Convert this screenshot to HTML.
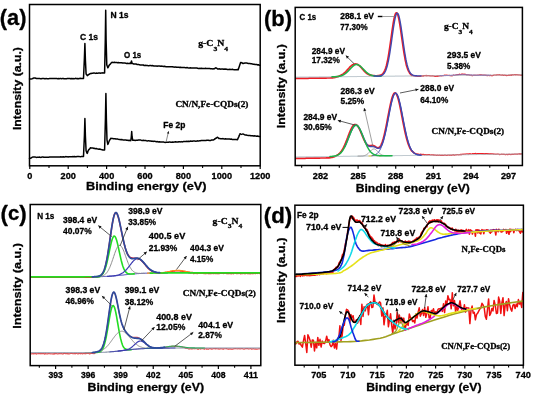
<!DOCTYPE html>
<html><head><meta charset="utf-8"><style>
html,body{margin:0;padding:0;background:#fff;width:533px;height:398px;overflow:hidden;font-family:"Liberation Sans",sans-serif;}
</style></head><body>
<svg width="533" height="398" viewBox="0 0 533 398" style="display:block;filter:blur(0.3px)"><style>text{stroke:#000;stroke-width:0.30px;stroke-linejoin:round}</style><rect x="0" y="0" width="533" height="398" fill="#fff"/>
<line x1="29.80" y1="165.80" x2="29.80" y2="169.10" stroke="#000" stroke-width="1.20"/>
<line x1="68.20" y1="165.80" x2="68.20" y2="169.10" stroke="#000" stroke-width="1.20"/>
<line x1="106.60" y1="165.80" x2="106.60" y2="169.10" stroke="#000" stroke-width="1.20"/>
<line x1="145.00" y1="165.80" x2="145.00" y2="169.10" stroke="#000" stroke-width="1.20"/>
<line x1="183.40" y1="165.80" x2="183.40" y2="169.10" stroke="#000" stroke-width="1.20"/>
<line x1="221.80" y1="165.80" x2="221.80" y2="169.10" stroke="#000" stroke-width="1.20"/>
<line x1="260.20" y1="165.80" x2="260.20" y2="169.10" stroke="#000" stroke-width="1.20"/>
<line x1="49.00" y1="165.80" x2="49.00" y2="168.00" stroke="#000" stroke-width="1.10"/>
<line x1="87.40" y1="165.80" x2="87.40" y2="168.00" stroke="#000" stroke-width="1.10"/>
<line x1="125.80" y1="165.80" x2="125.80" y2="168.00" stroke="#000" stroke-width="1.10"/>
<line x1="164.20" y1="165.80" x2="164.20" y2="168.00" stroke="#000" stroke-width="1.10"/>
<line x1="202.60" y1="165.80" x2="202.60" y2="168.00" stroke="#000" stroke-width="1.10"/>
<line x1="241.00" y1="165.80" x2="241.00" y2="168.00" stroke="#000" stroke-width="1.10"/>
<text x="29.80" y="178.70" font-size="9.00" font-family="Liberation Sans, sans-serif" font-weight="bold" text-anchor="middle" fill="#000" textLength="5.10" lengthAdjust="spacingAndGlyphs" >0</text>
<text x="68.20" y="178.70" font-size="9.00" font-family="Liberation Sans, sans-serif" font-weight="bold" text-anchor="middle" fill="#000" textLength="15.30" lengthAdjust="spacingAndGlyphs" >200</text>
<text x="106.60" y="178.70" font-size="9.00" font-family="Liberation Sans, sans-serif" font-weight="bold" text-anchor="middle" fill="#000" textLength="15.30" lengthAdjust="spacingAndGlyphs" >400</text>
<text x="145.00" y="178.70" font-size="9.00" font-family="Liberation Sans, sans-serif" font-weight="bold" text-anchor="middle" fill="#000" textLength="15.30" lengthAdjust="spacingAndGlyphs" >600</text>
<text x="183.40" y="178.70" font-size="9.00" font-family="Liberation Sans, sans-serif" font-weight="bold" text-anchor="middle" fill="#000" textLength="15.30" lengthAdjust="spacingAndGlyphs" >800</text>
<text x="221.80" y="178.70" font-size="9.00" font-family="Liberation Sans, sans-serif" font-weight="bold" text-anchor="middle" fill="#000" textLength="20.40" lengthAdjust="spacingAndGlyphs" >1000</text>
<text x="260.20" y="178.70" font-size="9.00" font-family="Liberation Sans, sans-serif" font-weight="bold" text-anchor="middle" fill="#000" textLength="20.40" lengthAdjust="spacingAndGlyphs" >1200</text>
<text x="-0.20" y="25.00" font-size="22.00" font-family="Liberation Sans, sans-serif" font-weight="bold" text-anchor="start" fill="#000" textLength="26.60" lengthAdjust="spacingAndGlyphs" >(a)</text>
<text x="0" y="0" font-size="11.60" font-family="Liberation Sans, sans-serif" font-weight="bold" text-anchor="middle" textLength="83.00" lengthAdjust="spacingAndGlyphs" transform="translate(20.60,88.60) rotate(-90)">Intensity (a.u.)</text>
<text x="86.00" y="190.30" font-size="11.60" font-family="Liberation Sans, sans-serif" font-weight="bold" text-anchor="start" fill="#000" textLength="120.50" lengthAdjust="spacingAndGlyphs" >Binding energy (eV)</text>
<polyline points="29.5,79.0 30.3,78.9 31.2,78.9 32.0,78.8 32.8,78.6 33.5,78.0 35.0,78.0 35.8,78.3 36.5,78.6 37.3,78.6 38.1,78.6 38.9,78.5 39.7,78.6 40.6,78.7 41.4,78.7 42.2,78.4 43.0,78.5 43.8,78.4 44.6,78.7 45.4,78.7 46.2,78.4 47.0,78.8 47.8,78.8 48.7,78.7 49.5,78.6 50.3,78.5 51.1,78.4 51.9,78.6 52.7,78.4 53.5,78.5 54.3,78.5 55.1,78.4 55.9,78.6 56.8,78.6 57.6,78.7 58.4,78.6 59.2,78.7 60.0,78.6 60.8,78.6 61.6,78.7 62.4,78.6 63.2,78.5 64.1,78.8 64.9,78.8 65.7,78.7 66.5,78.7 67.3,78.5 68.1,78.5 68.9,78.5 69.7,78.4 70.5,78.7 71.3,78.5 72.2,78.7 73.0,78.5 73.8,78.7 74.6,78.7 75.4,78.3 76.2,78.4 77.0,78.7 77.8,78.5 78.6,78.7 79.4,78.5 80.3,78.3 81.1,78.6 81.9,78.6 82.7,78.4 83.5,78.5 84.4,58.0 84.9,43.4 85.4,60.0 86.1,74.0 86.7,74.7 87.3,75.7 88.2,74.9 89.0,74.3 89.8,74.0 90.5,73.4 91.3,73.5 92.1,73.2 92.9,73.2 93.8,73.1 94.6,73.1 95.4,73.4 96.2,73.1 97.0,73.2 97.8,73.2 98.7,73.1 99.5,73.0 100.4,73.2 101.2,72.9 102.1,73.1 102.9,72.8 103.8,72.9 104.6,72.9 105.3,40.0 105.7,10.2 106.1,40.0 106.8,65.0 107.1,65.8 107.5,66.8 107.8,67.8 108.3,67.1 108.7,66.2 109.2,65.2 109.8,64.5 110.3,64.2 110.9,63.3 111.4,62.8 112.0,62.2 112.8,62.4 113.6,62.4 114.4,62.2 115.2,62.6 116.0,62.4 116.8,62.5 117.6,62.7 118.4,62.6 119.2,62.7 120.0,62.8 120.8,62.7 121.7,62.7 122.5,63.0 123.3,62.9 124.2,63.1 125.0,63.1 125.8,63.2 126.6,63.4 127.5,63.3 128.3,63.4 129.1,63.5 130.0,63.3 130.8,63.5 131.5,61.0 132.1,63.6 132.9,63.6 133.7,64.0 134.5,64.1 135.3,63.9 136.1,64.0 136.9,64.4 137.7,64.6 138.6,64.4 139.4,64.8 140.2,64.9 141.0,64.9 141.8,64.9 142.6,64.9 143.4,65.0 144.2,65.5 145.0,65.4 145.8,65.3 146.6,65.6 147.4,65.4 148.2,65.7 149.0,65.7 149.8,65.6 150.6,65.6 151.5,65.8 152.3,65.6 153.1,65.7 153.9,65.9 154.7,66.1 155.5,66.0 156.3,65.9 157.1,66.2 157.9,66.0 158.7,66.0 159.5,66.1 160.3,66.2 161.1,66.1 161.9,66.2 162.7,66.3 163.5,66.5 164.4,66.3 165.2,66.5 166.0,66.7 166.8,66.8 167.6,66.7 168.4,66.8 169.2,66.8 170.0,66.8 170.8,66.7 171.6,66.7 172.4,66.7 173.2,67.1 174.1,67.1 174.9,67.2 175.7,66.9 176.5,67.2 177.3,67.2 178.1,67.3 178.9,67.2 179.7,67.5 180.5,67.2 181.4,67.4 182.2,67.5 183.0,67.6 183.8,67.6 184.6,67.6 185.4,67.7 186.2,67.8 187.0,67.6 187.8,67.8 188.6,67.9 189.5,67.9 190.3,67.8 191.1,68.0 191.9,68.0 192.7,68.0 193.5,68.0 194.3,68.0 195.1,68.1 195.9,68.1 196.8,68.0 197.6,68.2 198.4,68.4 199.2,68.4 200.0,68.3 200.8,68.4 201.6,68.3 202.4,68.5 203.2,68.4 204.0,68.4 204.8,68.6 205.6,68.3 206.4,68.6 207.2,68.4 208.1,68.6 208.9,68.6 209.7,68.5 210.5,68.7 211.3,68.7 212.1,68.8 212.9,68.9 213.7,68.7 214.5,68.8 215.2,68.1 216.0,67.8 216.8,68.3 217.5,68.9 218.3,69.0 219.2,68.8 220.0,68.9 220.8,69.2 221.6,69.1 222.5,69.1 223.3,69.3 224.1,69.1 225.0,69.3 225.8,69.1 226.6,69.2 227.4,69.4 228.3,69.5 229.1,69.5 229.9,69.3 230.7,69.4 231.6,69.4 232.4,69.3 233.2,69.5 234.1,69.7 234.9,69.7 235.7,69.7 236.5,69.8 237.4,69.6 238.2,69.7 240.6,62.4 242.0,62.8 243.0,63.6 244.0,63.2 245.0,63.0 245.8,63.1 246.7,63.1 247.5,63.2 248.3,63.4 249.2,63.6 250.0,63.6 250.8,63.7 251.7,63.8 252.5,64.1 253.3,64.3 254.2,64.2 255.0,64.4 255.8,64.4 256.7,64.5 257.5,64.9 258.3,64.7 259.2,65.2 260.0,65.2" fill="none" stroke="#000" stroke-width="1.50" stroke-linejoin="round" stroke-linecap="round" />
<polyline points="29.5,158.6 30.2,158.3 31.0,158.0 32.0,157.4 33.0,156.9 34.0,157.1 35.0,157.0 36.5,157.4 37.3,157.2 38.1,157.2 38.9,157.3 39.7,157.1 40.6,157.4 41.4,157.2 42.2,157.1 43.0,157.1 43.8,157.3 44.6,157.2 45.4,157.3 46.2,157.3 47.0,157.3 47.8,157.3 48.7,157.2 49.5,157.0 50.3,157.1 51.1,157.0 51.9,156.9 52.7,157.0 53.5,157.1 54.3,156.9 55.1,156.9 55.9,156.9 56.8,157.0 57.6,157.0 58.4,157.0 59.2,157.0 60.0,156.9 60.8,156.8 61.6,157.0 62.4,157.0 63.2,156.7 64.1,157.0 64.9,156.9 65.7,156.6 66.5,156.7 67.3,156.8 68.1,156.9 68.9,156.7 69.7,156.7 70.5,156.8 71.3,156.8 72.2,156.8 73.0,156.6 73.8,156.7 74.6,156.5 75.4,156.7 76.2,156.7 77.0,156.6 77.8,156.6 78.6,156.4 79.4,156.6 80.3,156.7 81.1,156.6 81.9,156.4 82.7,156.5 83.5,156.4 84.4,136.0 84.9,118.4 85.4,136.0 86.1,151.0 86.5,151.7 86.8,152.8 87.2,153.4 87.6,152.6 87.9,151.4 88.3,150.5 88.8,149.7 89.4,149.1 90.0,148.5 90.5,147.8 91.3,148.0 92.1,148.0 92.9,148.0 93.8,148.4 94.6,148.3 95.4,148.7 96.2,148.5 97.0,148.8 97.8,148.9 98.7,149.2 99.5,149.1 100.4,149.2 101.2,149.5 102.1,149.7 102.9,149.9 103.8,149.9 104.6,150.0 105.4,120.0 105.9,93.6 106.4,120.0 107.0,140.0 107.8,144.4 108.2,143.7 108.5,142.7 108.8,142.0 109.2,141.0 109.8,139.9 110.3,139.1 110.9,138.3 111.7,138.4 112.6,138.4 113.4,138.7 114.2,138.8 115.0,138.8 115.9,139.0 116.7,139.0 117.5,139.0 118.3,139.2 119.2,139.4 120.0,139.4 120.8,139.7 121.7,139.5 122.5,139.8 123.3,140.0 124.2,139.9 125.0,140.0 125.8,139.9 126.6,140.2 127.5,140.2 128.3,140.4 129.1,140.2 130.0,140.7 130.8,140.6 131.3,137.0 131.7,131.5 132.1,137.0 132.8,140.3 133.6,140.3 134.4,140.2 135.2,140.4 136.0,140.2 136.8,140.2 137.6,140.2 138.4,140.0 139.2,140.1 140.0,140.1 140.8,140.1 141.6,140.4 142.4,140.5 143.3,140.3 144.1,140.5 144.9,140.4 145.7,140.6 146.5,140.8 147.3,140.9 148.1,140.8 148.9,140.8 149.8,140.9 150.6,141.1 151.4,141.3 152.2,141.1 153.0,141.4 153.8,141.2 154.6,141.3 155.4,141.4 156.3,141.7 157.1,141.6 157.9,141.7 158.7,141.9 159.5,141.7 160.3,142.0 161.1,141.9 161.9,142.1 162.8,142.1 163.6,142.1 164.4,142.3 165.2,142.4 166.0,142.3 166.8,142.3 167.6,142.3 168.4,142.3 169.2,142.1 170.0,142.1 170.8,142.2 171.6,142.2 172.4,142.1 173.2,142.2 174.0,142.1 174.8,142.1 175.6,141.8 176.4,142.0 177.2,142.0 178.0,142.0 178.8,141.7 179.6,141.7 180.4,141.9 181.2,141.6 182.0,141.9 182.8,141.8 183.6,141.4 184.4,141.4 185.2,141.6 186.0,141.4 186.8,141.3 187.6,141.5 188.4,141.3 189.2,141.5 190.0,141.3 190.8,141.1 191.6,141.2 192.4,141.2 193.2,140.9 194.0,141.0 194.8,141.1 195.6,141.2 196.4,141.2 197.2,140.8 198.0,140.9 198.8,140.9 199.6,140.8 200.4,140.8 201.2,140.6 202.0,140.5 202.8,140.5 203.6,140.4 204.4,140.6 205.2,140.5 206.0,140.5 206.8,140.3 207.6,140.3 208.4,140.2 209.2,140.4 210.0,140.5 210.8,140.4 211.6,140.0 212.4,140.0 213.2,140.1 214.0,139.7 214.7,139.0 215.5,138.5 216.4,138.0 217.3,137.2 218.2,137.8 219.0,138.6 219.8,138.6 220.6,138.7 221.4,138.7 222.3,138.8 223.1,138.6 223.9,138.9 224.7,139.0 225.5,138.8 226.3,139.0 227.1,139.1 228.0,139.0 228.8,139.0 229.6,139.0 230.4,139.2 231.2,139.0 232.0,139.4 232.8,139.4 233.7,139.5 234.5,139.6 235.3,139.5 236.1,139.5 237.5,139.7 237.8,138.9 238.1,138.2 238.4,137.5 238.8,136.9 239.1,136.1 239.4,135.1 239.7,134.6 240.0,133.7 240.8,134.1 241.5,134.4 243.0,133.9 243.8,134.3 244.5,134.7 245.3,134.9 246.2,135.0 247.2,135.3 248.1,135.4 249.1,135.5 250.0,135.5 250.8,135.7 251.7,135.8 252.5,135.7 253.3,135.9 254.2,135.7 255.0,136.0 255.8,136.0 256.7,136.2 257.5,136.1 258.3,136.3 259.2,136.6 260.0,136.6" fill="none" stroke="#000" stroke-width="1.50" stroke-linejoin="round" stroke-linecap="round" />
<rect x="29.50" y="4.50" width="230.70" height="161.30" fill="none" stroke="#000" stroke-width="1.50"/>
<text x="79.90" y="39.60" font-size="8.40" font-family="Liberation Sans, sans-serif" font-weight="bold" text-anchor="start" fill="#000" textLength="18.00" lengthAdjust="spacingAndGlyphs" >C 1s</text>
<text x="110.60" y="18.00" font-size="8.40" font-family="Liberation Sans, sans-serif" font-weight="bold" text-anchor="start" fill="#000" textLength="18.00" lengthAdjust="spacingAndGlyphs" >N 1s</text>
<text x="124.00" y="58.10" font-size="8.40" font-family="Liberation Sans, sans-serif" font-weight="bold" text-anchor="start" fill="#000" textLength="17.30" lengthAdjust="spacingAndGlyphs" >O 1s</text>
<text x="198.20" y="46.10" font-size="9.00" font-family="Liberation Serif, serif" font-weight="bold" textLength="29.90" lengthAdjust="spacingAndGlyphs">g-C<tspan dy="4.60" font-size="7.00">3</tspan><tspan dy="-4.60" font-size="9.00">N</tspan><tspan dy="4.60" font-size="7.00">4</tspan></text>
<text x="175.40" y="106.80" font-size="8.80" font-family="Liberation Serif, serif" font-weight="bold" text-anchor="start" fill="#000" textLength="73.00" lengthAdjust="spacingAndGlyphs" >CN/N,Fe-CQDs(2)</text>
<text x="163.30" y="127.60" font-size="8.40" font-family="Liberation Sans, sans-serif" font-weight="bold" text-anchor="start" fill="#000" textLength="22.00" lengthAdjust="spacingAndGlyphs" >Fe 2p</text>
<line x1="168.60" y1="131.20" x2="166.20" y2="141.50" stroke="#555" stroke-width="0.70"/>
<polygon points="168.60,131.20 169.22,133.81 166.89,133.27" fill="#111"/>
<line x1="320.48" y1="165.50" x2="320.48" y2="168.80" stroke="#000" stroke-width="1.20"/>
<line x1="358.10" y1="165.50" x2="358.10" y2="168.80" stroke="#000" stroke-width="1.20"/>
<line x1="395.72" y1="165.50" x2="395.72" y2="168.80" stroke="#000" stroke-width="1.20"/>
<line x1="433.34" y1="165.50" x2="433.34" y2="168.80" stroke="#000" stroke-width="1.20"/>
<line x1="470.96" y1="165.50" x2="470.96" y2="168.80" stroke="#000" stroke-width="1.20"/>
<line x1="508.58" y1="165.50" x2="508.58" y2="168.80" stroke="#000" stroke-width="1.20"/>
<line x1="301.67" y1="165.50" x2="301.67" y2="167.70" stroke="#000" stroke-width="1.10"/>
<line x1="339.29" y1="165.50" x2="339.29" y2="167.70" stroke="#000" stroke-width="1.10"/>
<line x1="376.91" y1="165.50" x2="376.91" y2="167.70" stroke="#000" stroke-width="1.10"/>
<line x1="414.53" y1="165.50" x2="414.53" y2="167.70" stroke="#000" stroke-width="1.10"/>
<line x1="452.15" y1="165.50" x2="452.15" y2="167.70" stroke="#000" stroke-width="1.10"/>
<line x1="489.77" y1="165.50" x2="489.77" y2="167.70" stroke="#000" stroke-width="1.10"/>
<text x="320.48" y="178.50" font-size="9.00" font-family="Liberation Sans, sans-serif" font-weight="bold" text-anchor="middle" fill="#000" textLength="15.30" lengthAdjust="spacingAndGlyphs" >282</text>
<text x="358.10" y="178.50" font-size="9.00" font-family="Liberation Sans, sans-serif" font-weight="bold" text-anchor="middle" fill="#000" textLength="15.30" lengthAdjust="spacingAndGlyphs" >285</text>
<text x="395.72" y="178.50" font-size="9.00" font-family="Liberation Sans, sans-serif" font-weight="bold" text-anchor="middle" fill="#000" textLength="15.30" lengthAdjust="spacingAndGlyphs" >288</text>
<text x="433.34" y="178.50" font-size="9.00" font-family="Liberation Sans, sans-serif" font-weight="bold" text-anchor="middle" fill="#000" textLength="15.30" lengthAdjust="spacingAndGlyphs" >291</text>
<text x="470.96" y="178.50" font-size="9.00" font-family="Liberation Sans, sans-serif" font-weight="bold" text-anchor="middle" fill="#000" textLength="15.30" lengthAdjust="spacingAndGlyphs" >294</text>
<text x="508.58" y="178.50" font-size="9.00" font-family="Liberation Sans, sans-serif" font-weight="bold" text-anchor="middle" fill="#000" textLength="15.30" lengthAdjust="spacingAndGlyphs" >297</text>
<text x="264.00" y="26.00" font-size="22.00" font-family="Liberation Sans, sans-serif" font-weight="bold" text-anchor="start" fill="#000" textLength="28.00" lengthAdjust="spacingAndGlyphs" >(b)</text>
<text x="0" y="0" font-size="11.60" font-family="Liberation Sans, sans-serif" font-weight="bold" text-anchor="middle" textLength="84.00" lengthAdjust="spacingAndGlyphs" transform="translate(284.60,86.20) rotate(-90)">Intensity (a.u.)</text>
<text x="355.80" y="192.00" font-size="11.60" font-family="Liberation Sans, sans-serif" font-weight="bold" text-anchor="start" fill="#000" textLength="114.00" lengthAdjust="spacingAndGlyphs" >Binding energy (eV)</text>
<text x="299.60" y="19.50" font-size="8.20" font-family="Liberation Sans, sans-serif" font-weight="bold" text-anchor="start" fill="#000" textLength="16.60" lengthAdjust="spacingAndGlyphs" >C 1s</text>
<polyline points="295.8,78.4 296.3,78.4 296.8,78.4 297.3,78.4 297.8,78.4 298.3,78.4 298.8,78.4 299.3,78.3 299.8,78.3 300.3,78.3 300.8,78.3 301.3,78.3 301.8,78.3 302.3,78.3 302.8,78.3 303.3,78.3 303.8,78.3 304.3,78.3 304.8,78.3 305.3,78.3 305.8,78.3 306.3,78.3 306.8,78.3 307.3,78.3 307.8,78.3 308.3,78.3 308.8,78.2 309.3,78.2 309.8,78.2 310.3,78.2 310.8,78.2 311.3,78.2 311.8,78.2 312.3,78.2 312.8,78.2 313.3,78.2 313.8,78.2 314.3,78.2 314.8,78.2 315.3,78.2 315.8,78.2 316.3,78.2 316.8,78.2 317.3,78.2 317.8,78.2 318.3,78.1 318.8,78.1 319.3,78.1 319.8,78.1 320.3,78.1 320.8,78.1 321.3,78.1 321.8,78.1 322.3,78.1 322.8,78.1 323.3,78.1 323.8,78.1 324.3,78.1 324.8,78.1 325.3,78.1 325.8,78.1 326.3,78.1 326.8,78.0 327.3,78.0 327.8,78.0 328.3,78.0 328.8,78.0 329.3,78.0 329.8,78.0 330.3,78.0 330.8,77.9 331.3,77.9 331.8,77.9 332.3,77.8 332.8,77.8 333.3,77.7 333.8,77.7 334.3,77.6 334.8,77.5 335.3,77.4 335.8,77.2 336.3,77.1 336.8,76.9 337.3,76.8 337.8,76.6 338.3,76.4 338.8,76.2 339.3,76.0 339.8,75.8 340.3,75.6 340.8,75.4 341.3,75.1 341.8,74.8 342.3,74.5 342.8,74.2 343.3,73.8 343.8,73.4 344.3,73.0 344.8,72.5 345.3,72.1 345.8,71.6 346.3,71.0 346.8,70.5 347.3,69.9 347.8,69.4 348.3,68.8 348.8,68.3 349.3,67.7 349.8,67.2 350.3,66.7 350.8,66.2 351.3,65.8 351.8,65.4 352.3,65.0 352.8,64.7 353.3,64.5 353.8,64.3 354.3,64.1 354.8,64.0 355.3,63.9 355.8,64.0 356.3,64.0 356.8,64.2 357.3,64.4 357.8,64.6 358.3,64.9 358.8,65.3 359.3,65.7 359.8,66.2 360.3,66.7 360.8,67.2 361.3,67.7 361.8,68.3 362.3,68.9 362.8,69.4 363.3,70.0 363.8,70.6 364.3,71.1 364.8,71.6 365.3,72.1 365.8,72.6 366.3,73.0 366.8,73.4 367.3,73.7 367.8,74.0 368.3,74.3 368.8,74.6 369.3,74.8 369.8,74.9 370.3,75.1 370.8,75.2 371.3,75.3 371.8,75.4 372.3,75.5 372.8,75.6 373.3,75.6 373.8,75.7 374.3,75.7 374.8,75.8 375.3,75.8 375.8,75.8 376.3,75.8 376.8,75.8 377.3,75.8 377.8,75.7 378.3,75.7 378.8,75.6 379.3,75.6 379.8,75.4 380.3,75.3 380.8,75.1 381.3,74.8 381.8,74.5 382.3,74.1 382.8,73.6 383.3,73.0 383.8,72.3 384.3,71.4 384.8,70.3 385.3,69.1 385.8,67.6 386.3,65.9 386.8,63.9 387.3,61.7 387.8,59.3 388.3,56.6 388.8,53.7 389.3,50.5 389.8,47.2 390.3,43.7 390.8,40.1 391.3,36.5 391.8,32.9 392.3,29.4 392.8,26.0 393.3,22.9 393.8,20.1 394.3,17.7 394.8,15.7 395.3,14.2 395.8,13.2 396.3,12.8 396.8,12.9 397.3,13.6 397.8,14.8 398.3,16.5 398.8,18.7 399.3,21.3 399.8,24.2 400.3,27.4 400.8,30.8 401.3,34.4 401.8,37.9 402.3,41.5 402.8,45.0 403.3,48.4 403.8,51.6 404.3,54.6 404.8,57.4 405.3,60.4 405.8,62.4 406.3,64.9 406.8,66.5 407.3,67.9 407.8,69.5 408.3,70.6 408.8,71.6 409.3,72.3 409.8,73.4 410.3,73.8 410.8,74.3 411.3,74.8 411.8,75.3" fill="none" stroke="#ee1c24" stroke-width="1.70" stroke-linejoin="round" stroke-linecap="round" />
<polyline points="411.3,74.8 411.8,75.3 412.3,75.0 412.8,75.6 413.3,75.8 413.8,75.7 414.3,75.9 414.8,75.8 415.3,76.0 415.8,76.1 416.3,76.0 416.8,76.1 417.3,76.5 417.8,76.3 418.3,76.3 418.8,76.5 419.3,76.3 419.8,76.5 420.3,76.2 420.8,76.3 421.3,75.8 421.8,76.0 422.3,76.1 422.8,75.6 423.3,76.1 423.8,75.5 424.3,75.7 424.8,75.5 425.3,75.6 425.8,75.7 426.3,75.3 426.8,75.9 427.3,75.6 427.8,75.7 428.3,75.7 428.8,75.6 429.3,75.6 429.8,75.9 430.3,75.9 430.8,75.7 431.3,76.0 431.8,75.8 432.3,75.7 432.8,75.9 433.3,75.8 433.8,75.9 434.3,76.3 434.8,76.1 435.3,76.4 435.8,76.3 436.3,75.8 436.8,76.4 437.3,76.3 437.8,75.7 438.3,76.2 438.8,75.8 439.3,75.8 439.8,76.0 440.3,75.6 440.8,75.7 441.3,75.9 441.8,75.7 442.3,75.5 442.8,75.7 443.3,75.6 443.8,75.5 444.3,75.1 444.8,75.4 445.3,75.3 445.8,75.2 446.3,75.1 446.8,75.4 447.3,75.2 447.8,75.4 448.3,75.5 448.8,75.4 449.3,75.3 449.8,75.6 450.3,75.5 450.8,75.7 451.3,75.5 451.8,75.8 452.3,75.7 452.8,75.6 453.3,75.2 453.8,75.1 454.3,75.5 454.8,75.4 455.3,75.2 455.8,75.0 456.3,74.8 456.8,75.0 457.3,74.8 457.8,74.7 458.3,74.7 458.8,74.7 459.3,74.3 459.8,74.2 460.3,74.6 460.8,74.5 461.3,74.5 461.8,74.0 462.3,74.0 462.8,74.1 463.3,74.2 463.8,74.4 464.3,74.1 464.8,74.5 465.3,74.3 465.8,74.3 466.3,74.8 466.8,74.8 467.3,74.9 467.8,74.9 468.3,75.0 468.8,74.9 469.3,75.1 469.8,75.4 470.3,75.5 470.8,75.1 471.3,75.2 471.8,75.6 472.3,75.5 472.8,75.6 473.3,75.2 473.8,75.4 474.3,75.2 474.8,75.5 475.3,75.2 475.8,75.4 476.3,75.5 476.8,75.1 477.3,75.2 477.8,75.3 478.3,75.3 478.8,75.0 479.3,75.0 479.8,74.8 480.3,75.2 480.8,74.8 481.3,74.8 481.8,75.1 482.3,75.1 482.8,75.2 483.3,75.0 483.8,75.4 484.3,75.0 484.8,75.1 485.3,75.5 485.8,75.1 486.3,75.3 486.8,75.6 487.3,75.6 487.8,75.4 488.3,75.3 488.8,75.5 489.3,75.7 489.8,75.5 490.3,75.3 490.8,75.6 491.3,75.5 491.8,75.7 492.3,75.6 492.8,75.6 493.3,75.2 493.8,75.4 494.3,75.0 494.8,75.0 495.3,75.0 495.8,75.2 496.3,75.2 496.8,74.8 497.3,74.8 497.8,74.8 498.3,74.8 498.8,74.8 499.3,74.8 499.8,74.7 500.3,75.0 500.8,75.1 501.3,75.0 501.8,75.2 502.3,75.1 502.8,74.9 503.3,75.3 503.8,75.4 504.3,75.1 504.8,75.0 505.3,75.3 505.8,75.4 506.3,75.4 506.8,75.6 507.3,75.5 507.8,75.5 508.3,75.1 508.8,75.3 509.3,75.4 509.8,75.0 510.3,74.9 510.8,75.3 511.3,75.3 511.8,74.7 512.3,75.0 512.8,74.7 513.3,75.0 513.8,74.9 514.3,74.6 514.8,74.5 515.3,74.8 515.8,74.7 516.3,74.8 516.8,74.6 517.3,74.6 517.8,75.0 518.3,74.8 518.8,74.8 519.3,74.8 519.8,75.0 520.3,75.0 520.8,75.2 521.3,74.9 521.8,75.2" fill="none" stroke="#ee1c24" stroke-width="1.20" stroke-linejoin="round" stroke-linecap="round" />
<polyline points="295.8,77.2 296.3,77.2 296.8,77.2 297.3,77.2 297.8,77.2 298.3,77.2 298.8,77.2 299.3,77.2 299.8,77.1 300.3,77.1 300.8,77.1 301.3,77.1 301.8,77.1 302.3,77.1 302.8,77.1 303.3,77.1 303.8,77.1 304.3,77.1 304.8,77.1 305.3,77.1 305.8,77.1 306.3,77.1 306.8,77.1 307.3,77.1 307.8,77.1 308.3,77.1 308.8,77.1 309.3,77.0 309.8,77.0 310.3,77.0 310.8,77.0 311.3,77.0 311.8,77.0 312.3,77.0 312.8,77.0 313.3,77.0 313.8,77.0 314.3,77.0 314.8,77.0 315.3,77.0 315.8,77.0 316.3,77.0 316.8,77.0 317.3,77.0 317.8,77.0 318.3,77.0 318.8,77.0 319.3,76.9 319.8,76.9 320.3,76.9 320.8,76.9 321.3,76.9 321.8,76.9 322.3,76.9 322.8,76.9 323.3,76.9 323.8,76.9 324.3,76.9 324.8,76.9 325.3,76.9 325.8,76.9 326.3,76.9 326.8,76.9 327.3,76.9 327.8,76.9 328.3,76.9 328.8,76.8 329.3,76.8 329.8,76.8 330.3,76.8 330.8,76.8 331.3,76.8 331.8,76.8 332.3,76.8 332.8,76.8 333.3,76.8 333.8,76.8 334.3,76.8 334.8,76.8 335.3,76.8 335.8,76.8 336.3,76.8 336.8,76.8 337.3,76.8 337.8,76.8 338.3,76.7 338.8,76.7 339.3,76.7 339.8,76.7 340.3,76.7 340.8,76.7 341.3,76.7 341.8,76.7 342.3,76.7 342.8,76.7 343.3,76.7 343.8,76.7 344.3,76.7 344.8,76.7 345.3,76.7 345.8,76.7 346.3,76.7 346.8,76.7 347.3,76.7 347.8,76.6 348.3,76.6 348.8,76.6 349.3,76.6 349.8,76.6 350.3,76.6 350.8,76.6 351.3,76.6 351.8,76.6 352.3,76.6 352.8,76.6 353.3,76.6 353.8,76.6 354.3,76.6 354.8,76.6 355.3,76.6 355.8,76.6 356.3,76.6 356.8,76.6 357.3,76.5 357.8,76.5 358.3,76.5 358.8,76.5 359.3,76.5 359.8,76.5 360.3,76.5 360.8,76.5 361.3,76.5 361.8,76.5 362.3,76.5 362.8,76.5 363.3,76.5 363.8,76.5 364.3,76.5 364.8,76.5 365.3,76.5 365.8,76.5 366.3,76.5 366.8,76.4 367.3,76.4 367.8,76.4 368.3,76.4 368.8,76.4 369.3,76.4 369.8,76.4 370.3,76.4 370.8,76.4 371.3,76.4 371.8,76.4 372.3,76.4 372.8,76.4 373.3,76.4 373.8,76.4 374.3,76.4 374.8,76.4 375.3,76.4 375.8,76.4 376.3,76.3 376.8,76.3 377.3,76.3 377.8,76.3 378.3,76.3 378.8,76.3 379.3,76.3 379.8,76.3 380.3,76.3 380.8,76.3 381.3,76.3 381.8,76.3 382.3,76.3 382.8,76.3 383.3,76.3 383.8,76.3 384.3,76.3 384.8,76.3 385.3,76.3 385.8,76.2 386.3,76.2 386.8,76.2 387.3,76.2 387.8,76.2 388.3,76.2 388.8,76.2 389.3,76.2 389.8,76.2 390.3,76.2 390.8,76.2 391.3,76.2 391.8,76.2 392.3,76.2 392.8,76.2 393.3,76.2 393.8,76.2 394.3,76.2 394.8,76.2 395.3,76.1 395.8,76.1 396.3,76.1 396.8,76.1 397.3,76.1 397.8,76.1 398.3,76.1 398.8,76.1 399.3,76.1 399.8,76.1 400.3,76.1 400.8,76.1 401.3,76.1 401.8,76.1 402.3,76.1 402.8,76.1 403.3,76.1 403.8,76.1 404.3,76.1 404.8,76.0 405.3,76.0 405.8,76.0 406.3,76.0 406.8,76.0 407.3,76.0 407.8,76.0 408.3,76.0 408.8,76.0 409.3,76.0 409.8,76.0 410.3,76.0 410.8,76.0 411.3,76.0 411.8,76.0 412.3,76.0 412.8,76.0 413.3,76.0 413.8,76.0 414.3,75.9 414.8,75.9 415.3,75.9 415.8,75.9 416.3,75.9 416.8,75.9 417.3,75.9 417.8,75.9 418.3,75.9 418.8,75.9 419.3,75.9 419.8,75.9 420.3,75.9 420.8,75.9 421.3,75.9 421.8,75.9 422.3,75.9 422.8,75.9 423.3,75.9 423.8,75.8 424.3,75.8 424.8,75.8 425.3,75.8 425.8,75.8 426.3,75.8 426.8,75.8 427.3,75.8 427.8,75.8 428.3,75.8 428.8,75.8 429.3,75.8 429.8,75.8 430.3,75.8 430.8,75.8 431.3,75.8 431.8,75.8 432.3,75.8 432.8,75.8 433.3,75.7 433.8,75.7 434.3,75.7 434.8,75.7 435.3,75.7 435.8,75.7 436.3,75.7 436.8,75.7 437.3,75.7 437.8,75.7 438.3,75.7 438.8,75.7 439.3,75.7 439.8,75.7 440.3,75.7 440.8,75.7 441.3,75.7 441.8,75.7 442.3,75.7 442.8,75.6 443.3,75.6 443.8,75.6 444.3,75.6 444.8,75.6 445.3,75.6 445.8,75.6 446.3,75.6 446.8,75.6 447.3,75.6 447.8,75.6 448.3,75.6 448.8,75.6 449.3,75.6 449.8,75.6 450.3,75.6 450.8,75.6 451.3,75.6 451.8,75.6 452.3,75.5 452.8,75.5 453.3,75.5 453.8,75.5 454.3,75.5 454.8,75.5 455.3,75.5 455.8,75.5 456.3,75.5 456.8,75.5 457.3,75.5 457.8,75.5 458.3,75.5 458.8,75.5 459.3,75.5 459.8,75.5 460.3,75.5 460.8,75.5 461.3,75.5 461.8,75.4 462.3,75.4 462.8,75.4 463.3,75.4 463.8,75.4 464.3,75.4 464.8,75.4 465.3,75.4 465.8,75.4 466.3,75.4 466.8,75.4 467.3,75.4 467.8,75.4 468.3,75.4 468.8,75.4 469.3,75.4 469.8,75.4 470.3,75.4 470.8,75.4 471.3,75.3 471.8,75.3 472.3,75.3 472.8,75.3 473.3,75.3 473.8,75.3 474.3,75.3 474.8,75.3 475.3,75.3 475.8,75.3 476.3,75.3 476.8,75.3 477.3,75.3 477.8,75.3 478.3,75.3 478.8,75.3 479.3,75.3 479.8,75.3 480.3,75.3 480.8,75.2 481.3,75.2 481.8,75.2 482.3,75.2 482.8,75.2 483.3,75.2 483.8,75.2 484.3,75.2 484.8,75.2 485.3,75.2 485.8,75.2 486.3,75.2 486.8,75.2 487.3,75.2 487.8,75.2 488.3,75.2 488.8,75.2 489.3,75.2 489.8,75.2 490.3,75.1 490.8,75.1 491.3,75.1 491.8,75.1 492.3,75.1 492.8,75.1 493.3,75.1 493.8,75.1 494.3,75.1 494.8,75.1 495.3,75.1 495.8,75.1 496.3,75.1 496.8,75.1 497.3,75.1 497.8,75.1 498.3,75.1 498.8,75.1 499.3,75.1 499.8,75.0 500.3,75.0 500.8,75.0 501.3,75.0 501.8,75.0 502.3,75.0 502.8,75.0 503.3,75.0 503.8,75.0 504.3,75.0 504.8,75.0 505.3,75.0 505.8,75.0 506.3,75.0 506.8,75.0 507.3,75.0 507.8,75.0 508.3,75.0 508.8,75.0 509.3,74.9 509.8,74.9 510.3,74.9 510.8,74.9 511.3,74.9 511.8,74.9 512.3,74.9 512.8,74.9 513.3,74.9 513.8,74.9 514.3,74.9 514.8,74.9 515.3,74.9 515.8,74.9 516.3,74.9 516.8,74.9 517.3,74.9 517.8,74.9 518.3,74.9 518.8,74.9 519.3,74.8 519.8,74.8 520.3,74.8 520.8,74.8 521.3,74.8 521.8,74.8" fill="none" stroke="#a9b6be" stroke-width="1.00" stroke-linejoin="round" stroke-linecap="round" />
<polyline points="332.0,76.8 332.5,76.8 333.0,76.8 333.5,76.8 334.0,76.7 334.5,76.7 335.0,76.7 335.5,76.7 336.0,76.6 336.5,76.6 337.0,76.6 337.5,76.5 338.0,76.5 338.5,76.4 339.0,76.3 339.5,76.2 340.0,76.1 340.5,76.0 341.0,75.9 341.5,75.7 342.0,75.5 342.5,75.3 343.0,75.1 343.5,74.8 344.0,74.5 344.5,74.2 345.0,73.9 345.5,73.5 346.0,73.1 346.5,72.7 347.0,72.2 347.5,71.7 348.0,71.3 348.5,70.7 349.0,70.2 349.5,69.7 350.0,69.1 350.5,68.6 351.0,68.1 351.5,67.5 352.0,67.1 352.5,66.6 353.0,66.2 353.5,65.8 354.0,65.4 354.5,65.1 355.0,64.9 355.5,64.7 356.0,64.6 356.5,64.6 357.0,64.6 357.5,64.6 358.0,64.8 358.5,65.0 359.0,65.3 359.5,65.6 360.0,65.9 360.5,66.3 361.0,66.8 361.5,67.2 362.0,67.7 362.5,68.3 363.0,68.8 363.5,69.3 364.0,69.8 364.5,70.4 365.0,70.9 365.5,71.4 366.0,71.8 366.5,72.3 367.0,72.7 367.5,73.1 368.0,73.5 368.5,73.8 369.0,74.1 369.5,74.4 370.0,74.7 370.5,74.9 371.0,75.1 371.5,75.3 372.0,75.5 372.5,75.6 373.0,75.7 373.5,75.8 374.0,75.9 374.5,76.0 375.0,76.1 375.5,76.1 376.0,76.1 376.5,76.2 377.0,76.2 377.5,76.2 378.0,76.2 378.5,76.3 379.0,76.3 379.5,76.3 380.0,76.3 380.5,76.3 381.0,76.3" fill="none" stroke="#1db34a" stroke-width="1.50" stroke-linejoin="round" stroke-linecap="round" />
<polyline points="440.0,75.7 440.5,75.7 441.0,75.7 441.5,75.6 442.0,75.6 442.5,75.6 443.0,75.6 443.5,75.6 444.0,75.6 444.5,75.6 445.0,75.6 445.5,75.6 446.0,75.5 446.5,75.5 447.0,75.5 447.5,75.5 448.0,75.5 448.5,75.4 449.0,75.4 449.5,75.4 450.0,75.3 450.5,75.3 451.0,75.3 451.5,75.2 452.0,75.2 452.5,75.1 453.0,75.1 453.5,75.1 454.0,75.0 454.5,75.0 455.0,74.9 455.5,74.9 456.0,74.8 456.5,74.8 457.0,74.7 457.5,74.7 458.0,74.6 458.5,74.6 459.0,74.6 459.5,74.5 460.0,74.5 460.5,74.5 461.0,74.5 461.5,74.5 462.0,74.4 462.5,74.4 463.0,74.4 463.5,74.5 464.0,74.5 464.5,74.5 465.0,74.5 465.5,74.5 466.0,74.6 466.5,74.6 467.0,74.6 467.5,74.7 468.0,74.7 468.5,74.7 469.0,74.8 469.5,74.8 470.0,74.8 470.5,74.9 471.0,74.9 471.5,74.9 472.0,75.0 472.5,75.0 473.0,75.0 473.5,75.1 474.0,75.1 474.5,75.1 475.0,75.1 475.5,75.1 476.0,75.2 476.5,75.2 477.0,75.2 477.5,75.2 478.0,75.2 478.5,75.2 479.0,75.2 479.5,75.2 480.0,75.2 480.5,75.2 481.0,75.2 481.5,75.2 482.0,75.2 482.5,75.2 483.0,75.2 483.5,75.2 484.0,75.2 484.5,75.2 485.0,75.2 485.5,75.2 486.0,75.2 486.5,75.2 487.0,75.2 487.5,75.2 488.0,75.2 488.5,75.2 489.0,75.2 489.5,75.2 490.0,75.2" fill="none" stroke="#7d7fc8" stroke-width="0.90" stroke-linejoin="round" stroke-linecap="round" />
<polyline points="374.0,75.9 374.5,76.0 375.0,76.0 375.5,76.1 376.0,76.1 376.5,76.1 377.0,76.2 377.5,76.2 378.0,76.2 378.5,76.1 379.0,76.1 379.5,76.0 380.0,76.0 380.5,75.9 381.0,75.7 381.5,75.5 382.0,75.3 382.5,75.0 383.0,74.6 383.5,74.1 384.0,73.6 384.5,72.8 385.0,72.0 385.5,71.0 386.0,69.8 386.5,68.3 387.0,66.7 387.5,64.8 388.0,62.7 388.5,60.3 389.0,57.7 389.5,54.9 390.0,51.8 390.5,48.5 391.0,45.1 391.5,41.6 392.0,38.0 392.5,34.4 393.0,30.8 393.5,27.4 394.0,24.3 394.5,21.4 395.0,18.8 395.5,16.7 396.0,15.0 396.5,13.8 397.0,13.2 397.5,13.2 398.0,13.7 398.5,14.7 399.0,16.3 399.5,18.3 400.0,20.8 400.5,23.6 401.0,26.7 401.5,30.1 402.0,33.6 402.5,37.1 403.0,40.7 403.5,44.3 404.0,47.7 404.5,51.0 405.0,54.1 405.5,57.0 406.0,59.7 406.5,62.1 407.0,64.2 407.5,66.1 408.0,67.8 408.5,69.3 409.0,70.5 409.5,71.5 410.0,72.4 410.5,73.2 411.0,73.8 411.5,74.2 412.0,74.6 412.5,74.9 413.0,75.2 413.5,75.4 414.0,75.5 414.5,75.6 415.0,75.7 415.5,75.8 416.0,75.8 416.5,75.8 417.0,75.9 417.5,75.9 418.0,75.9 418.5,75.9 419.0,75.9 419.5,75.9 420.0,75.9 420.5,75.9 421.0,75.9" fill="none" stroke="#4048b0" stroke-width="1.40" stroke-linejoin="round" stroke-linecap="round" />
<polyline points="295.8,158.4 296.3,158.4 296.8,158.4 297.3,158.4 297.8,158.4 298.3,158.3 298.8,158.3 299.3,158.3 299.8,158.3 300.3,158.3 300.8,158.3 301.3,158.3 301.8,158.3 302.3,158.3 302.8,158.3 303.3,158.3 303.8,158.3 304.3,158.3 304.8,158.3 305.3,158.3 305.8,158.2 306.3,158.2 306.8,158.2 307.3,158.2 307.8,158.2 308.3,158.2 308.8,158.2 309.3,158.2 309.8,158.2 310.3,158.2 310.8,158.2 311.3,158.2 311.8,158.2 312.3,158.2 312.8,158.2 313.3,158.1 313.8,158.1 314.3,158.1 314.8,158.1 315.3,158.1 315.8,158.1 316.3,158.1 316.8,158.1 317.3,158.1 317.8,158.1 318.3,158.1 318.8,158.1 319.3,158.1 319.8,158.1 320.3,158.0 320.8,158.0 321.3,158.0 321.8,158.0 322.3,158.0 322.8,158.0 323.3,158.0 323.8,158.0 324.3,158.0 324.8,158.0 325.3,158.0 325.8,158.0 326.3,157.9 326.8,157.9 327.3,157.9 327.8,157.9 328.3,157.9 328.8,157.8 329.3,157.8 329.8,157.7 330.3,157.7 330.8,157.6 331.3,157.5 331.8,157.4 332.3,157.3 332.8,157.2 333.3,157.0 333.8,156.9 334.3,156.7 334.8,156.5 335.3,156.2 335.8,156.0 336.3,155.7 336.8,155.4 337.3,155.1 337.8,154.7 338.3,154.4 338.8,154.0 339.3,153.5 339.8,153.0 340.3,152.5 340.8,151.9 341.3,151.3 341.8,150.5 342.3,149.8 342.8,148.9 343.3,148.0 343.8,147.0 344.3,146.0 344.8,144.8 345.3,143.7 345.8,142.4 346.3,141.2 346.8,139.9 347.3,138.5 347.8,137.2 348.3,135.8 348.8,134.5 349.3,133.2 349.8,132.0 350.3,130.8 350.8,129.6 351.3,128.6 351.8,127.7 352.3,126.8 352.8,126.1 353.3,125.5 353.8,125.1 354.3,124.7 354.8,124.6 355.3,124.5 355.8,124.6 356.3,124.8 356.8,125.2 357.3,125.7 357.8,126.3 358.3,127.1 358.8,127.9 359.3,128.9 359.8,129.9 360.3,131.0 360.8,132.1 361.3,133.3 361.8,134.5 362.3,135.8 362.8,137.0 363.3,138.2 363.8,139.3 364.3,140.4 364.8,141.4 365.3,142.3 365.8,143.2 366.3,143.9 366.8,144.5 367.3,145.0 367.8,145.3 368.3,145.6 368.8,145.7 369.3,145.8 369.8,145.7 370.3,145.7 370.8,145.6 371.3,145.5 371.8,145.4 372.3,145.4 372.8,145.4 373.3,145.5 373.8,145.7 374.3,146.0 374.8,146.3 375.3,146.6 375.8,146.9 376.3,147.3 376.8,147.5 377.3,147.7 377.8,147.8 378.3,147.8 378.8,147.6 379.3,147.3 379.8,146.8 380.3,146.2 380.8,145.3 381.3,144.3 381.8,143.1 382.3,141.8 382.8,140.2 383.3,138.5 383.8,136.6 384.3,134.6 384.8,132.5 385.3,130.2 385.8,127.8 386.3,125.3 386.8,122.8 387.3,120.1 387.8,117.5 388.3,114.9 388.8,112.3 389.3,109.7 389.8,107.3 390.3,104.9 390.8,102.7 391.3,100.6 391.8,98.8 392.3,97.1 392.8,95.7 393.3,94.6 393.8,93.7 394.3,93.2 394.8,92.9 395.3,92.9 395.8,93.3 396.3,93.9 396.8,94.9 397.3,96.1 397.8,97.5 398.3,99.2 398.8,101.2 399.3,103.3 399.8,105.6 400.3,108.0 400.8,110.5 401.3,113.1 401.8,115.8 402.3,118.4 402.8,121.1 403.3,123.7 403.8,126.2 404.3,128.7 404.8,131.0 405.3,133.3 405.8,135.4 406.3,137.5 406.8,139.3 407.3,141.1 407.8,142.7 408.3,144.2 408.8,145.5 409.3,146.7 409.8,147.8 410.3,148.8 410.8,149.6 411.3,150.4 411.8,151.1 412.3,151.2 412.8,151.8 413.3,152.2 413.8,152.6" fill="none" stroke="#ee1c24" stroke-width="1.70" stroke-linejoin="round" stroke-linecap="round" />
<polyline points="413.3,152.2 413.8,152.6 414.3,153.0 414.8,153.3 415.3,153.4 415.8,153.5 416.3,153.8 416.8,154.0 417.3,153.9 417.8,154.0 418.3,154.0 418.8,154.3 419.3,154.5 419.8,154.3 420.3,154.2 420.8,154.3 421.3,154.4 421.8,154.4 422.3,154.7 422.8,154.3 423.3,154.5 423.8,154.4 424.3,154.7 424.8,154.8 425.3,154.5 425.8,154.5 426.3,154.7 426.8,154.8 427.3,154.9 427.8,154.5 428.3,154.6 428.8,154.7 429.3,154.7 429.8,154.7 430.3,155.0 430.8,155.0 431.3,154.8 431.8,154.8 432.3,154.9 432.8,154.8 433.3,155.1 433.8,154.9 434.3,155.1 434.8,155.2 435.3,155.1 435.8,155.0 436.3,155.3 436.8,155.4 437.3,155.1 437.8,155.2 438.3,155.4 438.8,155.2 439.3,155.1 439.8,155.0 440.3,155.5 440.8,155.4 441.3,155.2 441.8,155.3 442.3,155.3 442.8,155.2 443.3,155.5 443.8,155.4 444.3,155.1 444.8,155.0 445.3,155.2 445.8,155.2 446.3,155.4 446.8,155.3 447.3,155.3 447.8,155.0 448.3,155.0 448.8,155.1 449.3,155.1 449.8,155.3 450.3,155.1 450.8,155.2 451.3,155.3 451.8,155.0 452.3,155.1 452.8,154.8 453.3,155.1 453.8,154.7 454.3,155.1 454.8,155.1 455.3,155.0 455.8,154.6 456.3,154.7 456.8,154.9 457.3,154.5 457.8,154.7 458.3,154.7 458.8,154.9 459.3,154.6 459.8,154.7 460.3,154.4 460.8,154.6 461.3,154.4 461.8,154.6 462.3,154.2 462.8,154.5 463.3,154.2 463.8,154.3 464.3,154.2 464.8,154.0 465.3,154.3 465.8,154.0 466.3,154.0 466.8,153.9 467.3,153.9 467.8,154.0 468.3,154.1 468.8,153.9 469.3,154.0 469.8,153.7 470.3,153.8 470.8,153.8 471.3,154.0 471.8,154.0 472.3,153.8 472.8,153.5 473.3,153.7 473.8,153.8 474.3,153.6 474.8,153.7 475.3,153.6 475.8,153.4 476.3,153.9 476.8,153.8 477.3,153.5 477.8,153.7 478.3,153.5 478.8,153.6 479.3,153.6 479.8,153.5 480.3,153.5 480.8,153.6 481.3,153.7 481.8,153.5 482.3,153.5 482.8,153.8 483.3,153.6 483.8,153.9 484.3,153.7 484.8,153.8 485.3,153.6 485.8,153.9 486.3,153.5 486.8,153.6 487.3,153.6 487.8,153.9 488.3,153.9 488.8,153.7 489.3,153.8 489.8,154.1 490.3,154.0 490.8,153.7 491.3,153.8 491.8,153.8 492.3,153.8 492.8,154.0 493.3,153.8 493.8,154.3 494.3,154.1 494.8,154.1 495.3,154.2 495.8,154.3 496.3,154.3 496.8,154.1 497.3,154.1 497.8,154.2 498.3,154.0 498.8,154.2 499.3,154.4 499.8,154.6 500.3,154.5 500.8,154.4 501.3,154.4 501.8,154.1 502.3,154.3 502.8,154.3 503.3,154.5 503.8,154.2 504.3,154.4 504.8,154.4 505.3,154.6 505.8,154.6 506.3,154.5 506.8,154.3 507.3,154.6 507.8,154.6 508.3,154.4 508.8,154.3 509.3,154.4 509.8,154.2 510.3,154.5 510.8,154.6 511.3,154.4 511.8,154.4 512.3,154.5 512.8,154.1 513.3,154.5 513.8,154.3 514.3,154.1 514.8,154.0 515.3,154.1 515.8,154.2 516.3,154.2 516.8,154.0 517.3,154.3 517.8,154.0 518.3,154.0 518.8,153.8 519.3,154.2 519.8,153.7 520.3,154.1 520.8,153.9 521.3,153.8 521.8,153.8" fill="none" stroke="#ee1c24" stroke-width="1.20" stroke-linejoin="round" stroke-linecap="round" />
<polyline points="295.8,157.0 296.3,157.0 296.8,157.0 297.3,157.0 297.8,157.0 298.3,157.0 298.8,156.9 299.3,156.9 299.8,156.9 300.3,156.9 300.8,156.9 301.3,156.9 301.8,156.9 302.3,156.9 302.8,156.9 303.3,156.9 303.8,156.9 304.3,156.9 304.8,156.9 305.3,156.9 305.8,156.9 306.3,156.8 306.8,156.8 307.3,156.8 307.8,156.8 308.3,156.8 308.8,156.8 309.3,156.8 309.8,156.8 310.3,156.8 310.8,156.8 311.3,156.8 311.8,156.8 312.3,156.8 312.8,156.8 313.3,156.8 313.8,156.7 314.3,156.7 314.8,156.7 315.3,156.7 315.8,156.7 316.3,156.7 316.8,156.7 317.3,156.7 317.8,156.7 318.3,156.7 318.8,156.7 319.3,156.7 319.8,156.7 320.3,156.7 320.8,156.7 321.3,156.6 321.8,156.6 322.3,156.6 322.8,156.6 323.3,156.6 323.8,156.6 324.3,156.6 324.8,156.6 325.3,156.6 325.8,156.6 326.3,156.6 326.8,156.6 327.3,156.6 327.8,156.6 328.3,156.6 328.8,156.5 329.3,156.5 329.8,156.5 330.3,156.5 330.8,156.5 331.3,156.5 331.8,156.5 332.3,156.5 332.8,156.5 333.3,156.5 333.8,156.5 334.3,156.5 334.8,156.5 335.3,156.5 335.8,156.4 336.3,156.4 336.8,156.4 337.3,156.4 337.8,156.4 338.3,156.4 338.8,156.4 339.3,156.4 339.8,156.4 340.3,156.4 340.8,156.4 341.3,156.4 341.8,156.4 342.3,156.4 342.8,156.4 343.3,156.3 343.8,156.3 344.3,156.3 344.8,156.3 345.3,156.3 345.8,156.3 346.3,156.3 346.8,156.3 347.3,156.3 347.8,156.3 348.3,156.3 348.8,156.3 349.3,156.3 349.8,156.3 350.3,156.3 350.8,156.2 351.3,156.2 351.8,156.2 352.3,156.2 352.8,156.2 353.3,156.2 353.8,156.2 354.3,156.2 354.8,156.2 355.3,156.2 355.8,156.2 356.3,156.2 356.8,156.2 357.3,156.2 357.8,156.2 358.3,156.1 358.8,156.1 359.3,156.1 359.8,156.1 360.3,156.1 360.8,156.1 361.3,156.1 361.8,156.1 362.3,156.1 362.8,156.1 363.3,156.1 363.8,156.1 364.3,156.1 364.8,156.1 365.3,156.1 365.8,156.0 366.3,156.0 366.8,156.0 367.3,156.0 367.8,156.0 368.3,156.0 368.8,156.0 369.3,156.0 369.8,156.0 370.3,156.0 370.8,156.0 371.3,156.0 371.8,156.0 372.3,156.0 372.8,155.9 373.3,155.9 373.8,155.9 374.3,155.9 374.8,155.9 375.3,155.9 375.8,155.9 376.3,155.9 376.8,155.9 377.3,155.9 377.8,155.9 378.3,155.9 378.8,155.9 379.3,155.9 379.8,155.9 380.3,155.8 380.8,155.8 381.3,155.8 381.8,155.8 382.3,155.8 382.8,155.8 383.3,155.8 383.8,155.8 384.3,155.8 384.8,155.8 385.3,155.8 385.8,155.8 386.3,155.8 386.8,155.8 387.3,155.8 387.8,155.7 388.3,155.7 388.8,155.7 389.3,155.7 389.8,155.7 390.3,155.7 390.8,155.7 391.3,155.7 391.8,155.7 392.3,155.7 392.8,155.7 393.3,155.7 393.8,155.7 394.3,155.7 394.8,155.7 395.3,155.6 395.8,155.6 396.3,155.6 396.8,155.6 397.3,155.6 397.8,155.6 398.3,155.6 398.8,155.6 399.3,155.6 399.8,155.6 400.3,155.6 400.8,155.6 401.3,155.6 401.8,155.6 402.3,155.6 402.8,155.5 403.3,155.5 403.8,155.5 404.3,155.5 404.8,155.5 405.3,155.5 405.8,155.5 406.3,155.5 406.8,155.5 407.3,155.5 407.8,155.5 408.3,155.5 408.8,155.5 409.3,155.5 409.8,155.5 410.3,155.4 410.8,155.4 411.3,155.4 411.8,155.4 412.3,155.4 412.8,155.4 413.3,155.4 413.8,155.4 414.3,155.4 414.8,155.4 415.3,155.4 415.8,155.4 416.3,155.4 416.8,155.4 417.3,155.3 417.8,155.3 418.3,155.3 418.8,155.3 419.3,155.3 419.8,155.3 420.3,155.3 420.8,155.3 421.3,155.3 421.8,155.3 422.3,155.3 422.8,155.3 423.3,155.3 423.8,155.3 424.3,155.3 424.8,155.2 425.3,155.2 425.8,155.2 426.3,155.2 426.8,155.2 427.3,155.2 427.8,155.2 428.3,155.2 428.8,155.2 429.3,155.2 429.8,155.2 430.3,155.2 430.8,155.2 431.3,155.2 431.8,155.2 432.3,155.1 432.8,155.1 433.3,155.1 433.8,155.1 434.3,155.1 434.8,155.1 435.3,155.1 435.8,155.1 436.3,155.1 436.8,155.1 437.3,155.1 437.8,155.1 438.3,155.1 438.8,155.1 439.3,155.1 439.8,155.0 440.3,155.0 440.8,155.0 441.3,155.0 441.8,155.0 442.3,155.0 442.8,155.0 443.3,155.0 443.8,155.0 444.3,155.0 444.8,155.0 445.3,155.0 445.8,155.0 446.3,155.0 446.8,155.0 447.3,154.9 447.8,154.9 448.3,154.9 448.8,154.9 449.3,154.9 449.8,154.9 450.3,154.9 450.8,154.9 451.3,154.9 451.8,154.9 452.3,154.9 452.8,154.9 453.3,154.9 453.8,154.9 454.3,154.8 454.8,154.8 455.3,154.8 455.8,154.8 456.3,154.8 456.8,154.8 457.3,154.8 457.8,154.8 458.3,154.8 458.8,154.8 459.3,154.8 459.8,154.8 460.3,154.8 460.8,154.8 461.3,154.8 461.8,154.7 462.3,154.7 462.8,154.7 463.3,154.7 463.8,154.7 464.3,154.7 464.8,154.7 465.3,154.7 465.8,154.7 466.3,154.7 466.8,154.7 467.3,154.7 467.8,154.7 468.3,154.7 468.8,154.7 469.3,154.6 469.8,154.6 470.3,154.6 470.8,154.6 471.3,154.6 471.8,154.6 472.3,154.6 472.8,154.6 473.3,154.6 473.8,154.6 474.3,154.6 474.8,154.6 475.3,154.6 475.8,154.6 476.3,154.6 476.8,154.5 477.3,154.5 477.8,154.5 478.3,154.5 478.8,154.5 479.3,154.5 479.8,154.5 480.3,154.5 480.8,154.5 481.3,154.5 481.8,154.5 482.3,154.5 482.8,154.5 483.3,154.5 483.8,154.5 484.3,154.4 484.8,154.4 485.3,154.4 485.8,154.4 486.3,154.4 486.8,154.4 487.3,154.4 487.8,154.4 488.3,154.4 488.8,154.4 489.3,154.4 489.8,154.4 490.3,154.4 490.8,154.4 491.3,154.3 491.8,154.3 492.3,154.3 492.8,154.3 493.3,154.3 493.8,154.3 494.3,154.3 494.8,154.3 495.3,154.3 495.8,154.3 496.3,154.3 496.8,154.3 497.3,154.3 497.8,154.3 498.3,154.3 498.8,154.2 499.3,154.2 499.8,154.2 500.3,154.2 500.8,154.2 501.3,154.2 501.8,154.2 502.3,154.2 502.8,154.2 503.3,154.2 503.8,154.2 504.3,154.2 504.8,154.2 505.3,154.2 505.8,154.2 506.3,154.1 506.8,154.1 507.3,154.1 507.8,154.1 508.3,154.1 508.8,154.1 509.3,154.1 509.8,154.1 510.3,154.1 510.8,154.1 511.3,154.1 511.8,154.1 512.3,154.1 512.8,154.1 513.3,154.1 513.8,154.0 514.3,154.0 514.8,154.0 515.3,154.0 515.8,154.0 516.3,154.0 516.8,154.0 517.3,154.0 517.8,154.0 518.3,154.0 518.8,154.0 519.3,154.0 519.8,154.0 520.3,154.0 520.8,154.0 521.3,153.9 521.8,153.9" fill="none" stroke="#a9b6be" stroke-width="1.00" stroke-linejoin="round" stroke-linecap="round" />
<polyline points="358.0,156.1 358.5,156.1 359.0,156.1 359.5,156.1 360.0,156.1 360.5,156.1 361.0,156.1 361.5,156.0 362.0,156.0 362.5,156.0 363.0,155.9 363.5,155.8 364.0,155.7 364.5,155.6 365.0,155.4 365.5,155.2 366.0,155.0 366.5,154.7 367.0,154.4 367.5,154.0 368.0,153.6 368.5,153.1 369.0,152.6 369.5,152.1 370.0,151.5 370.5,151.0 371.0,150.5 371.5,150.0 372.0,149.6 372.5,149.3 373.0,149.1 373.5,149.0 374.0,148.9 374.5,149.0 375.0,149.2 375.5,149.5 376.0,149.9 376.5,150.3 377.0,150.8 377.5,151.3 378.0,151.8 378.5,152.4 379.0,152.9 379.5,153.3 380.0,153.7 380.5,154.1 381.0,154.5 381.5,154.7 382.0,155.0 382.5,155.2 383.0,155.3 383.5,155.4 384.0,155.5 384.5,155.6 385.0,155.6 385.5,155.7 386.0,155.7 386.5,155.7 387.0,155.7 387.5,155.7 388.0,155.7 388.5,155.7 389.0,155.7 389.5,155.7 390.0,155.7" fill="none" stroke="#8a8a8a" stroke-width="0.80" stroke-linejoin="round" stroke-linecap="round" />
<polyline points="369.0,156.0 369.5,156.0 370.0,155.9 370.5,155.9 371.0,155.8 371.5,155.8 372.0,155.6 372.5,155.5 373.0,155.3 373.5,155.2 374.0,155.1 374.5,155.0 375.0,154.9 375.5,154.9 376.0,155.0 376.5,155.1 377.0,155.3 377.5,155.4 378.0,155.6 378.5,155.7 379.0,155.7 379.5,155.8 380.0,155.8 380.5,155.8 381.0,155.8" fill="none" stroke="#f2d21b" stroke-width="1.00" stroke-linejoin="round" stroke-linecap="round" />
<polyline points="372.0,155.7 372.5,155.6 373.0,155.5 373.5,155.4 374.0,155.2 374.5,155.1 375.0,154.9 375.5,154.6 376.0,154.4 376.5,154.0 377.0,153.7 377.5,153.2 378.0,152.7 378.5,152.1 379.0,151.5 379.5,150.7 380.0,149.9 380.5,148.9 381.0,147.8 381.5,146.6 382.0,145.3 382.5,143.9 383.0,142.3 383.5,140.6 384.0,138.7 384.5,136.7 385.0,134.6 385.5,132.4 386.0,130.1 386.5,127.6 387.0,125.1 387.5,122.6 388.0,119.9 388.5,117.3 389.0,114.7 389.5,112.1 390.0,109.5 390.5,107.1 391.0,104.7 391.5,102.6 392.0,100.5 392.5,98.7 393.0,97.1 393.5,95.8 394.0,94.7 394.5,93.9 395.0,93.4 395.5,93.1 396.0,93.2 396.5,93.6 397.0,94.3 397.5,95.3 398.0,96.5 398.5,98.0 399.0,99.7 399.5,101.6 400.0,103.7 400.5,106.0 401.0,108.4 401.5,110.9 402.0,113.5 402.5,116.1 403.0,118.7 403.5,121.3 404.0,123.9 404.5,126.4 405.0,128.9 405.5,131.2 406.0,133.5 406.5,135.6 407.0,137.6 407.5,139.5 408.0,141.3 408.5,142.9 409.0,144.4 409.5,145.8 410.0,147.0 410.5,148.1 411.0,149.1 411.5,150.0 412.0,150.8 412.5,151.4 413.0,152.0 413.5,152.6 414.0,153.0 414.5,153.4 415.0,153.7 415.5,154.0 416.0,154.2 416.5,154.4 417.0,154.6 417.5,154.7 418.0,154.8 418.5,154.9 419.0,155.0 419.5,155.1 420.0,155.1 420.5,155.1 421.0,155.2" fill="none" stroke="#4048b0" stroke-width="1.00" stroke-linejoin="round" stroke-linecap="round" />
<polyline points="345.0,146.4 345.5,145.3 346.0,144.2 346.5,143.0 347.0,141.8 347.5,140.6 348.0,139.3 348.5,138.0 349.0,136.7 349.5,135.4 350.0,134.1 350.5,132.9 351.0,131.7 351.5,130.6 352.0,129.6 352.5,128.6 353.0,127.7 353.5,127.0 354.0,126.3 354.5,125.8 355.0,125.5 355.5,125.3 356.0,125.2 356.5,125.2 357.0,125.5 357.5,125.8 358.0,126.3 358.5,126.9 359.0,127.6 359.5,128.5 360.0,129.4 360.5,130.5 361.0,131.5 361.5,132.7 362.0,133.9 362.5,135.1 363.0,136.3 363.5,137.5 364.0,138.7 364.5,139.8 365.0,140.9 365.5,141.9 366.0,142.9 366.5,143.7 367.0,144.4 367.5,145.0 368.0,145.5 368.5,145.9 369.0,146.2 369.5,146.4 370.0,146.5 370.5,146.5 371.0,146.6 371.5,146.5 372.0,146.5 372.5,146.5 373.0,146.6 373.5,146.6 374.0,146.8 374.5,146.9 375.0,147.1 375.5,147.4 376.0,147.6 376.5,147.9 377.0,148.1 377.5,148.3 378.0,148.4 378.5,148.4 379.0,148.3 379.5,148.0 380.0,147.6 380.5,147.1 381.0,146.4 381.5,145.5 382.0,144.4 382.5,143.2 383.0,141.8 383.5,140.2 384.0,138.4 384.5,136.5 385.0,134.5 385.5,132.3 386.0,130.0 386.5,127.6 387.0,125.1 387.5,122.5 388.0,119.9 388.5,117.3 389.0,114.7 389.5,112.1 390.0,109.5 390.5,107.1 391.0,104.7 391.5,102.6 392.0,100.5 392.5,98.7 393.0,97.1 393.5,95.8 394.0,94.7 394.5,93.9 395.0,93.4 395.5,93.1 396.0,93.2 396.5,93.6 397.0,94.3 397.5,95.3 398.0,96.5 398.5,98.0 399.0,99.7 399.5,101.6 400.0,103.7 400.5,106.0 401.0,108.4 401.5,110.9 402.0,113.5 402.5,116.1 403.0,118.7 403.5,121.3 404.0,123.9 404.5,126.4 405.0,128.9 405.5,131.2 406.0,133.5 406.5,135.6 407.0,137.6 407.5,139.5 408.0,141.3 408.5,142.9 409.0,144.4 409.5,145.8 410.0,147.0 410.5,148.1 411.0,149.1 411.5,150.0 412.0,150.8 412.5,151.4 413.0,152.0 413.5,152.6 414.0,153.0 414.5,153.4 415.0,153.7 415.5,154.0 416.0,154.2 416.5,154.4 417.0,154.6 417.5,154.7 418.0,154.8 418.5,154.9 419.0,155.0 419.5,155.1 420.0,155.1 420.5,155.1 421.0,155.2" fill="none" stroke="#4048b0" stroke-width="1.40" stroke-linejoin="round" stroke-linecap="round" />
<polyline points="330.0,156.5 330.5,156.5 331.0,156.4 331.5,156.4 332.0,156.4 332.5,156.3 333.0,156.3 333.5,156.2 334.0,156.1 334.5,156.1 335.0,156.0 335.5,155.9 336.0,155.7 336.5,155.6 337.0,155.4 337.5,155.2 338.0,154.9 338.5,154.7 339.0,154.3 339.5,154.0 340.0,153.6 340.5,153.1 341.0,152.6 341.5,152.1 342.0,151.4 342.5,150.8 343.0,150.0 343.5,149.2 344.0,148.3 344.5,147.4 345.0,146.4 345.5,145.3 346.0,144.2 346.5,143.0 347.0,141.8 347.5,140.6 348.0,139.3 348.5,138.0 349.0,136.7 349.5,135.4 350.0,134.1 350.5,132.9 351.0,131.7 351.5,130.6 352.0,129.6 352.5,128.6 353.0,127.7 353.5,127.0 354.0,126.3 354.5,125.8 355.0,125.5 355.5,125.3 356.0,125.2 356.5,125.2 357.0,125.5 357.5,125.8 358.0,126.3 358.5,126.9 359.0,127.6 359.5,128.5 360.0,129.4 360.5,130.5 361.0,131.6 361.5,132.8 362.0,134.0 362.5,135.2 363.0,136.5 363.5,137.8 364.0,139.1 364.5,140.3 365.0,141.6 365.5,142.8 366.0,143.9 366.5,145.0 367.0,146.1 367.5,147.1 368.0,148.0 368.5,148.9 369.0,149.7 369.5,150.4 370.0,151.1 370.5,151.7 371.0,152.2 371.5,152.7 372.0,153.2 372.5,153.5 373.0,153.9 373.5,154.2 374.0,154.5 374.5,154.7 375.0,154.9 375.5,155.0 376.0,155.2 376.5,155.3 377.0,155.4 377.5,155.5 378.0,155.5 378.5,155.6 379.0,155.6 379.5,155.7 380.0,155.7 380.5,155.7 381.0,155.8 381.5,155.8 382.0,155.8 382.5,155.8 383.0,155.8 383.5,155.8 384.0,155.8 384.5,155.8 385.0,155.8 385.5,155.8 386.0,155.8 386.5,155.8 387.0,155.8 387.5,155.7 388.0,155.7 388.5,155.7 389.0,155.7 389.5,155.7 390.0,155.7 390.5,155.7 391.0,155.7 391.5,155.7 392.0,155.7" fill="none" stroke="#1db34a" stroke-width="1.50" stroke-linejoin="round" stroke-linecap="round" />
<text x="340.20" y="19.30" font-size="8.40" font-family="Liberation Sans, sans-serif" font-weight="bold" text-anchor="start" fill="#000" textLength="33.80" lengthAdjust="spacingAndGlyphs" >288.1 eV</text>
<text x="340.20" y="29.80" font-size="8.40" font-family="Liberation Sans, sans-serif" font-weight="bold" text-anchor="start" fill="#000" textLength="27.40" lengthAdjust="spacingAndGlyphs" >77.30%</text>
<line x1="377.80" y1="16.50" x2="382.50" y2="16.50" stroke="#000" stroke-width="1.40"/>
<line x1="382.50" y1="16.50" x2="395.00" y2="16.50" stroke="#777" stroke-width="0.70"/>
<text x="311.70" y="53.50" font-size="8.40" font-family="Liberation Sans, sans-serif" font-weight="bold" text-anchor="start" fill="#000" textLength="33.30" lengthAdjust="spacingAndGlyphs" >284.9 eV</text>
<text x="311.70" y="63.30" font-size="8.40" font-family="Liberation Sans, sans-serif" font-weight="bold" text-anchor="start" fill="#000" textLength="28.20" lengthAdjust="spacingAndGlyphs" >17.32%</text>
<line x1="345.80" y1="55.60" x2="354.40" y2="64.00" stroke="#333" stroke-width="0.80"/>
<polygon points="345.80,55.60 348.99,56.62 346.90,58.77" fill="#111"/>
<text x="447.10" y="58.10" font-size="8.40" font-family="Liberation Sans, sans-serif" font-weight="bold" text-anchor="start" fill="#000" textLength="33.70" lengthAdjust="spacingAndGlyphs" >293.5 eV</text>
<text x="447.10" y="68.70" font-size="8.40" font-family="Liberation Sans, sans-serif" font-weight="bold" text-anchor="start" fill="#000" textLength="23.20" lengthAdjust="spacingAndGlyphs" >5.38%</text>
<text x="443.90" y="28.60" font-size="9.00" font-family="Liberation Serif, serif" font-weight="bold" textLength="28.90" lengthAdjust="spacingAndGlyphs">g-C<tspan dy="5.20" font-size="7.00">3</tspan><tspan dy="-5.20" font-size="9.00">N</tspan><tspan dy="5.20" font-size="7.00">4</tspan></text>
<text x="303.40" y="119.80" font-size="8.40" font-family="Liberation Sans, sans-serif" font-weight="bold" text-anchor="start" fill="#000" textLength="33.80" lengthAdjust="spacingAndGlyphs" >284.9 eV</text>
<text x="303.40" y="130.20" font-size="8.40" font-family="Liberation Sans, sans-serif" font-weight="bold" text-anchor="start" fill="#000" textLength="28.40" lengthAdjust="spacingAndGlyphs" >30.65%</text>
<line x1="337.80" y1="120.40" x2="354.70" y2="125.00" stroke="#333" stroke-width="0.80"/>
<polygon points="337.80,120.40 341.09,119.74 340.30,122.64" fill="#111"/>
<text x="340.50" y="93.50" font-size="8.40" font-family="Liberation Sans, sans-serif" font-weight="bold" text-anchor="start" fill="#000" textLength="34.20" lengthAdjust="spacingAndGlyphs" >286.3 eV</text>
<text x="340.50" y="104.00" font-size="8.40" font-family="Liberation Sans, sans-serif" font-weight="bold" text-anchor="start" fill="#000" textLength="23.70" lengthAdjust="spacingAndGlyphs" >5.25%</text>
<line x1="364.20" y1="108.00" x2="373.00" y2="146.70" stroke="#777" stroke-width="0.70"/>
<polygon points="364.20,108.00 366.33,110.59 363.40,111.26" fill="#111"/>
<text x="420.30" y="91.40" font-size="8.40" font-family="Liberation Sans, sans-serif" font-weight="bold" text-anchor="start" fill="#000" textLength="33.70" lengthAdjust="spacingAndGlyphs" >288.0 eV</text>
<text x="420.30" y="102.50" font-size="8.40" font-family="Liberation Sans, sans-serif" font-weight="bold" text-anchor="start" fill="#000" textLength="27.90" lengthAdjust="spacingAndGlyphs" >64.10%</text>
<line x1="418.50" y1="89.30" x2="400.00" y2="93.00" stroke="#333" stroke-width="0.80"/>
<polygon points="418.50,89.30 415.85,91.36 415.26,88.42" fill="#111"/>
<text x="431.60" y="133.50" font-size="8.80" font-family="Liberation Serif, serif" font-weight="bold" text-anchor="start" fill="#000" textLength="72.60" lengthAdjust="spacingAndGlyphs" >CN/N,Fe-CQDs(2)</text>
<rect x="295.20" y="7.40" width="227.20" height="158.10" fill="none" stroke="#000" stroke-width="1.50"/>
<line x1="55.60" y1="365.60" x2="55.60" y2="368.90" stroke="#000" stroke-width="1.20"/>
<line x1="88.15" y1="365.60" x2="88.15" y2="368.90" stroke="#000" stroke-width="1.20"/>
<line x1="120.70" y1="365.60" x2="120.70" y2="368.90" stroke="#000" stroke-width="1.20"/>
<line x1="153.25" y1="365.60" x2="153.25" y2="368.90" stroke="#000" stroke-width="1.20"/>
<line x1="185.80" y1="365.60" x2="185.80" y2="368.90" stroke="#000" stroke-width="1.20"/>
<line x1="218.35" y1="365.60" x2="218.35" y2="368.90" stroke="#000" stroke-width="1.20"/>
<line x1="250.90" y1="365.60" x2="250.90" y2="368.90" stroke="#000" stroke-width="1.20"/>
<line x1="39.33" y1="365.60" x2="39.33" y2="367.80" stroke="#000" stroke-width="1.10"/>
<line x1="71.88" y1="365.60" x2="71.88" y2="367.80" stroke="#000" stroke-width="1.10"/>
<line x1="104.42" y1="365.60" x2="104.42" y2="367.80" stroke="#000" stroke-width="1.10"/>
<line x1="136.97" y1="365.60" x2="136.97" y2="367.80" stroke="#000" stroke-width="1.10"/>
<line x1="169.53" y1="365.60" x2="169.53" y2="367.80" stroke="#000" stroke-width="1.10"/>
<line x1="202.07" y1="365.60" x2="202.07" y2="367.80" stroke="#000" stroke-width="1.10"/>
<line x1="234.62" y1="365.60" x2="234.62" y2="367.80" stroke="#000" stroke-width="1.10"/>
<text x="55.60" y="377.70" font-size="9.00" font-family="Liberation Sans, sans-serif" font-weight="bold" text-anchor="middle" fill="#000" textLength="14.40" lengthAdjust="spacingAndGlyphs" >393</text>
<text x="88.15" y="377.70" font-size="9.00" font-family="Liberation Sans, sans-serif" font-weight="bold" text-anchor="middle" fill="#000" textLength="14.40" lengthAdjust="spacingAndGlyphs" >396</text>
<text x="120.70" y="377.70" font-size="9.00" font-family="Liberation Sans, sans-serif" font-weight="bold" text-anchor="middle" fill="#000" textLength="14.40" lengthAdjust="spacingAndGlyphs" >399</text>
<text x="153.25" y="377.70" font-size="9.00" font-family="Liberation Sans, sans-serif" font-weight="bold" text-anchor="middle" fill="#000" textLength="14.40" lengthAdjust="spacingAndGlyphs" >402</text>
<text x="185.80" y="377.70" font-size="9.00" font-family="Liberation Sans, sans-serif" font-weight="bold" text-anchor="middle" fill="#000" textLength="14.40" lengthAdjust="spacingAndGlyphs" >405</text>
<text x="218.35" y="377.70" font-size="9.00" font-family="Liberation Sans, sans-serif" font-weight="bold" text-anchor="middle" fill="#000" textLength="14.40" lengthAdjust="spacingAndGlyphs" >408</text>
<text x="250.90" y="377.70" font-size="9.00" font-family="Liberation Sans, sans-serif" font-weight="bold" text-anchor="middle" fill="#000" textLength="14.40" lengthAdjust="spacingAndGlyphs" >411</text>
<text x="0.60" y="221.10" font-size="22.00" font-family="Liberation Sans, sans-serif" font-weight="bold" text-anchor="start" fill="#000" textLength="26.20" lengthAdjust="spacingAndGlyphs" >(<tspan font-size="20" dy="-1.6">c</tspan><tspan dy="1.6">)</tspan></text>
<text x="0" y="0" font-size="11.60" font-family="Liberation Sans, sans-serif" font-weight="bold" text-anchor="middle" textLength="85.60" lengthAdjust="spacingAndGlyphs" transform="translate(21.10,285.90) rotate(-90)">Intensity (a.u.)</text>
<text x="87.50" y="390.80" font-size="11.60" font-family="Liberation Sans, sans-serif" font-weight="bold" text-anchor="start" fill="#000" textLength="116.50" lengthAdjust="spacingAndGlyphs" >Binding energy (eV)</text>
<text x="37.20" y="218.80" font-size="8.20" font-family="Liberation Sans, sans-serif" font-weight="bold" text-anchor="start" fill="#000" textLength="17.20" lengthAdjust="spacingAndGlyphs" >N 1s</text>
<polyline points="30.8,277.3 31.3,277.3 31.8,277.3 32.3,277.3 32.8,277.3 33.3,277.3 33.8,277.3 34.3,277.3 34.8,277.3 35.3,277.3 35.8,277.3 36.3,277.3 36.8,277.3 37.3,277.3 37.8,277.3 38.3,277.3 38.8,277.3 39.3,277.3 39.8,277.3 40.3,277.3 40.8,277.3 41.3,277.3 41.8,277.3 42.3,277.3 42.8,277.3 43.3,277.3 43.8,277.3 44.3,277.3 44.8,277.3 45.3,277.3 45.8,277.3 46.3,277.3 46.8,277.3 47.3,277.3 47.8,277.3 48.3,277.3 48.8,277.3 49.3,277.3 49.8,277.3 50.3,277.3 50.8,277.3 51.3,277.3 51.8,277.3 52.3,277.3 52.8,277.3 53.3,277.3 53.8,277.3 54.3,277.3 54.8,277.3 55.3,277.3 55.8,277.3 56.3,277.3 56.8,277.3 57.3,277.3 57.8,277.3 58.3,277.3 58.8,277.3 59.3,277.3 59.8,277.3 60.3,277.3 60.8,277.3 61.3,277.3 61.8,277.3 62.3,277.3 62.8,277.3 63.3,277.3 63.8,277.3 64.3,277.3 64.8,277.3 65.3,277.3 65.8,277.3 66.3,277.3 66.8,277.3 67.3,277.3 67.8,277.3 68.3,277.3 68.8,277.3 69.3,277.3 69.8,277.3 70.3,277.3 70.8,277.3 71.3,277.3 71.8,277.3 72.3,277.3 72.8,277.3 73.3,277.3 73.8,277.3 74.3,277.3 74.8,277.3 75.3,277.3 75.8,277.3 76.3,277.3 76.8,277.3 77.3,277.3 77.8,277.3 78.3,277.3 78.8,277.3 79.3,277.3 79.8,277.3 80.3,277.3 80.8,277.3 81.3,277.3 81.8,277.3 82.3,277.3 82.8,277.3 83.3,277.3 83.8,277.3 84.3,277.3 84.8,277.2 85.3,277.2 85.8,277.2 86.3,277.2 86.8,277.2 87.3,277.2 87.8,277.2 88.3,277.2 88.8,277.2 89.3,277.2 89.8,277.2 90.3,277.2 90.8,277.2 91.3,277.2 91.8,277.2 92.3,277.2 92.8,277.2 93.3,277.2 93.8,277.2 94.3,277.1 94.8,277.1 95.3,277.1 95.8,277.1 96.3,277.0 96.8,277.0 97.3,276.9 97.8,276.8 98.3,276.7 98.8,276.6 99.3,276.5 99.8,276.2 100.3,276.0 100.8,275.6 101.3,275.2 101.8,274.7 102.3,274.0 102.8,273.3 103.3,272.3 103.8,271.2 104.3,269.9 104.8,268.4 105.3,266.6 105.8,264.7 106.3,262.4 106.8,260.0 107.3,257.3 107.8,254.3 108.3,251.2 108.8,247.9 109.3,244.5 109.8,240.9 110.3,237.4 110.8,233.8 111.3,230.3 111.8,227.0 112.3,223.9 112.8,221.0 113.3,218.5 113.8,216.4 114.3,214.8 114.8,213.6 115.3,212.9 115.8,212.6 116.3,212.8 116.8,213.4 117.3,214.4 117.8,215.7 118.3,217.3 118.8,219.1 119.3,221.2 119.8,223.4 120.3,225.8 120.8,228.2 121.3,230.7 121.8,233.1 122.3,235.6 122.8,237.9 123.3,240.2 123.8,242.4 124.3,244.4 124.8,246.3 125.3,248.1 125.8,249.7 126.3,251.2 126.8,252.4 127.3,253.6 127.8,254.5 128.3,255.3 128.8,256.0 129.3,256.6 129.8,257.0 130.3,257.4 130.8,257.6 131.3,257.8 131.8,258.0 132.3,258.1 132.8,258.2 133.3,258.2 133.8,258.3 134.3,258.3 134.8,258.3 135.3,258.3 135.8,258.3 136.3,258.3 136.8,258.4 137.3,258.4 137.8,258.5 138.3,258.7 138.8,258.9 139.3,259.1 139.8,259.4 140.3,259.7 140.8,260.1 141.3,260.5 141.8,261.0 142.3,261.5 142.8,262.0 143.3,262.5 143.8,263.1 144.3,263.7 144.8,264.3 145.3,264.8 145.7,265.4 146.2,266.0 146.7,266.6 147.2,267.1 147.7,267.7 148.2,268.2 148.7,268.7 149.2,269.1 149.7,269.6 150.2,270.0 150.7,270.3 151.2,270.7 151.7,271.0 152.2,271.3 152.7,271.5 153.2,271.8 153.7,272.0 154.2,272.2 154.7,272.3 155.2,272.5 155.7,272.6 156.2,272.7 156.7,272.8 157.2,272.9 157.7,272.9 158.2,273.0 158.7,273.0 159.2,273.0 159.7,273.0 160.2,273.0 160.7,273.0 161.2,273.0 161.7,273.0 162.2,273.0 162.7,272.9 163.2,272.9 163.7,272.8 164.2,272.8 164.7,272.7 165.2,272.6 165.7,272.6 166.2,272.5 166.7,272.4 167.2,272.3 167.7,272.2 168.2,272.1 168.7,272.0 169.2,271.9 169.7,271.8 170.2,271.7 170.7,271.6 171.2,271.5 171.7,271.4 172.2,271.3 172.7,271.2 173.2,271.1 173.7,271.0 174.2,270.9 174.7,270.9 175.2,270.8 175.7,270.8 176.2,270.7 176.7,270.7 177.2,270.7 177.7,270.7 178.2,270.7 178.7,270.7 179.2,270.8 179.7,270.8 180.2,270.9 180.7,270.9 181.2,271.0 181.7,271.1 182.2,271.2 182.7,271.3 183.2,271.4 183.7,271.5 184.2,271.6 184.7,271.7 185.2,271.6 185.7,272.2 186.2,272.3 186.7,272.3 187.2,272.3 187.7,272.0 188.2,272.6 188.7,272.3 189.2,272.8 189.7,272.4 190.2,272.7 190.7,273.0 191.2,272.6 191.7,272.9 192.2,272.6 192.7,272.6 193.2,272.8 193.7,273.4 194.2,273.4 194.7,273.2 195.2,273.0 195.7,273.3 196.2,273.4 196.7,273.1 197.2,273.3 197.7,273.4 198.2,272.9 198.7,273.0 199.2,273.2 199.7,273.0 200.2,273.2 200.7,273.3 201.2,273.1 201.7,273.3 202.2,273.1 202.7,273.3 203.2,273.2 203.7,273.4 204.2,273.0 204.7,273.4 205.2,273.0 205.7,273.6 206.2,273.4 206.7,273.3 207.2,273.2 207.7,273.4 208.2,273.4 208.7,273.5 209.2,273.5 209.7,273.3 210.2,273.6 210.7,273.5 211.2,273.5 211.7,273.2 212.2,273.3 212.7,273.3 213.2,273.6 213.7,273.3 214.2,273.3 214.7,273.3 215.2,273.6 215.7,273.2 216.2,273.0 216.7,273.5 217.2,273.6 217.7,273.5 218.2,273.4 218.7,273.5 219.2,273.2 219.7,273.4 220.2,273.0 220.7,273.0 221.2,273.3 221.7,273.3 222.2,273.2 222.7,273.0 223.2,273.4 223.7,273.3 224.2,273.1 224.7,273.2 225.2,273.2 225.7,273.1 226.2,273.0 226.7,273.6 227.2,273.6 227.7,273.4 228.2,273.6 228.7,273.2 229.2,273.5 229.7,273.1 230.2,273.5 230.7,273.3 231.2,273.6 231.7,273.0 232.2,273.5 232.7,273.0 233.2,273.3 233.7,273.6 234.2,273.0 234.7,273.1 235.2,273.2 235.7,273.2 236.2,273.0 236.7,273.6 237.2,273.5 237.7,273.2 238.2,273.2 238.7,273.4 239.2,273.0 239.7,273.0 240.2,273.6 240.7,273.2 241.2,273.3 241.7,273.6 242.2,273.6 242.7,273.3 243.2,273.1 243.7,273.2 244.2,273.6 244.7,273.6 245.2,273.1 245.7,273.5 246.2,273.2 246.7,273.3 247.2,273.1 247.7,273.6 248.2,273.6 248.7,273.1 249.2,273.4 249.7,273.1 250.2,273.6 250.7,273.0 251.2,273.0 251.7,273.5 252.2,273.2 252.7,273.6 253.2,273.6 253.7,273.4 254.2,273.0 254.7,273.4 255.2,273.6 255.7,273.3 256.2,273.0 256.7,273.1 257.2,273.2 257.7,273.4 258.2,273.1 258.7,273.1 259.2,273.1 259.7,273.4 260.2,273.5" fill="none" stroke="#ee1c24" stroke-width="1.50" stroke-linejoin="round" stroke-linecap="round" />
<polyline points="95.0,276.7 95.5,276.7 96.0,276.7 96.5,276.7 97.0,276.7 97.5,276.7 98.0,276.7 98.5,276.7 99.0,276.7 99.5,276.7 100.0,276.6 100.5,276.6 101.0,276.6 101.5,276.6 102.0,276.6 102.5,276.6 103.0,276.5 103.5,276.5 104.0,276.5 104.5,276.5 105.0,276.5 105.5,276.4 106.0,276.4 106.5,276.4 107.0,276.4 107.5,276.3 108.0,276.3 108.5,276.3 109.0,276.3 109.5,276.2 110.0,276.2 110.5,276.2 111.0,276.1 111.5,276.1 112.0,276.1 112.5,276.0 113.0,276.0 113.5,276.0 114.0,275.9 114.5,275.9 115.0,275.8 115.5,275.8 116.0,275.7 116.5,275.7 117.0,275.6 117.5,275.6 118.0,275.5 118.5,275.5 119.0,275.4 119.5,275.4 120.0,275.3 120.5,275.3 121.0,275.2 121.5,275.2 122.0,275.1 122.5,275.1 123.0,275.0 123.5,275.0 124.0,274.9 124.5,274.8 125.0,274.8 125.5,274.7 126.0,274.7 126.5,274.6 127.0,274.6 127.5,274.5 128.0,274.5 128.5,274.4 129.0,274.4 129.5,274.3 130.0,274.3 130.5,274.2 131.0,274.2 131.5,274.1 132.0,274.1 132.5,274.0 133.0,274.0 133.5,273.9 134.0,273.9 134.5,273.8 135.0,273.8 135.5,273.8 136.0,273.7 136.5,273.7 137.0,273.7 137.5,273.6 138.0,273.6 138.5,273.6 139.0,273.5 139.5,273.5 140.0,273.5 140.5,273.5 141.0,273.4 141.5,273.4 142.0,273.4 142.5,273.4 143.0,273.3 143.5,273.3 144.0,273.3 144.5,273.3 145.0,273.3 145.5,273.2 146.0,273.2 146.5,273.2 147.0,273.2 147.5,273.2 148.0,273.2 148.5,273.1 149.0,273.1 149.5,273.1 150.0,273.1" fill="none" stroke="#3b3bb0" stroke-width="1.00" stroke-linejoin="round" stroke-linecap="round" />
<polyline points="94.2,276.7 94.7,276.7 95.2,276.7 95.7,276.7 96.2,276.7 96.7,276.6 97.2,276.6 97.7,276.5 98.2,276.4 98.7,276.3 99.2,276.2 99.7,276.1 100.2,275.8 100.7,275.6 101.2,275.3 101.7,274.8 102.2,274.3 102.7,273.7 103.2,273.0 103.7,272.1 104.2,271.1 104.7,269.9 105.2,268.6 105.7,267.1 106.2,265.3 106.7,263.5 107.2,261.4 107.7,259.2 108.2,256.9 108.7,254.5 109.2,252.1 109.7,249.7 110.2,247.3 110.7,245.0 111.2,242.9 111.7,241.0 112.2,239.3 112.7,238.0 113.2,237.0 113.7,236.3 114.2,236.1 114.7,236.2 115.2,236.8 115.7,237.7 116.2,239.0 116.7,240.5 117.2,242.4 117.7,244.4 118.2,246.6 118.7,248.9 119.2,251.3 119.7,253.6 120.2,255.9 120.7,258.2 121.2,260.3 121.7,262.2 122.2,264.0 122.7,265.7 123.2,267.1 123.7,268.4 124.2,269.5 124.7,270.4 125.2,271.2 125.7,271.9 126.2,272.4 126.7,272.9 127.2,273.2 127.7,273.5 128.2,273.7 128.7,273.8 129.2,273.9 129.7,274.0 130.2,274.0 130.7,274.0 131.2,274.0 131.7,274.0 132.2,274.0 132.7,274.0 133.2,273.9 133.7,273.9 134.2,273.9" fill="none" stroke="#22dd22" stroke-width="1.60" stroke-linejoin="round" stroke-linecap="round" />
<polyline points="94.7,276.7 95.2,276.7 95.7,276.7 96.2,276.7 96.7,276.7 97.2,276.7 97.7,276.6 98.2,276.6 98.7,276.6 99.2,276.5 99.7,276.5 100.2,276.4 100.7,276.3 101.2,276.2 101.7,276.1 102.2,276.0 102.7,275.8 103.2,275.6 103.7,275.3 104.2,275.1 104.7,274.7 105.2,274.3 105.7,273.9 106.2,273.4 106.7,272.8 107.2,272.1 107.7,271.4 108.2,270.6 108.7,269.6 109.2,268.6 109.7,267.6 110.2,266.4 110.7,265.1 111.2,263.8 111.7,262.4 112.2,260.9 112.7,259.5 113.2,258.0 113.7,256.5 114.2,255.0 114.7,253.5 115.2,252.1 115.7,250.8 116.2,249.6 116.7,248.5 117.2,247.5 117.7,246.7 118.2,246.1 118.7,245.7 119.2,245.4 119.8,245.4 120.3,245.5 120.8,245.9 121.3,246.4 121.8,247.1 122.3,247.9 122.8,248.9 123.3,250.0 123.8,251.2 124.3,252.5 124.8,253.9 125.3,255.3 125.8,256.7 126.3,258.1 126.8,259.5 127.3,260.8 127.8,262.2 128.3,263.4 128.8,264.6 129.3,265.7 129.8,266.7 130.3,267.6 130.8,268.4 131.3,269.2 131.8,269.9 132.3,270.5 132.8,271.0 133.3,271.4 133.8,271.8 134.3,272.1 134.8,272.4 135.3,272.6 135.8,272.8 136.3,272.9 136.8,273.1 137.3,273.2 137.8,273.2 138.3,273.3 138.8,273.3 139.3,273.3 139.8,273.3 140.3,273.4 140.8,273.4 141.3,273.3 141.8,273.3 142.3,273.3 142.8,273.3 143.3,273.3 143.8,273.3 144.3,273.3" fill="none" stroke="#8d8d8d" stroke-width="1.00" stroke-linejoin="round" stroke-linecap="round" />
<polyline points="107.5,276.3 108.0,276.3 108.5,276.3 109.0,276.3 109.5,276.2 110.0,276.2 110.5,276.1 111.0,276.1 111.5,276.1 112.0,276.0 112.5,276.0 113.0,275.9 113.5,275.9 114.0,275.8 114.5,275.7 115.0,275.7 115.5,275.6 116.0,275.5 116.5,275.4 117.0,275.3 117.5,275.2 118.0,275.0 118.5,274.9 119.0,274.7 119.5,274.5 120.0,274.4 120.5,274.1 121.0,273.9 121.5,273.6 122.0,273.3 122.5,273.0 123.0,272.7 123.5,272.3 124.0,271.9 124.5,271.5 125.0,271.0 125.5,270.6 126.0,270.0 126.5,269.5 127.0,268.9 127.5,268.3 128.0,267.7 128.5,267.1 129.0,266.5 129.5,265.8 130.0,265.2 130.5,264.5 131.0,263.9 131.5,263.2 132.0,262.6 132.5,262.0 133.0,261.4 133.5,260.9 134.0,260.4 134.5,260.0 135.0,259.6 135.5,259.3 136.0,259.0 136.5,258.8 137.0,258.7 137.5,258.6 138.0,258.6 138.5,258.7 139.0,258.8 139.5,259.0 140.0,259.3 140.5,259.6 141.0,260.0 141.5,260.4 142.0,260.8 142.5,261.3 143.0,261.9 143.5,262.4 144.0,263.0 144.5,263.6 145.0,264.2 145.5,264.7 146.0,265.3 146.5,265.9 147.0,266.5 147.5,267.0 148.0,267.5 148.5,268.0 149.0,268.5 149.5,269.0 150.0,269.4 150.5,269.8 151.0,270.1 151.5,270.5 152.0,270.8 152.5,271.0 153.0,271.3 153.5,271.5 154.0,271.7 154.5,271.9 155.0,272.0 155.5,272.2 156.0,272.3 156.5,272.4 157.0,272.5 157.5,272.6 158.0,272.6 158.5,272.7 159.0,272.7 159.5,272.8 160.0,272.8 160.5,272.8 161.0,272.9 161.5,272.9 162.0,272.9 162.5,272.9 163.0,272.9 163.5,272.9 164.0,272.9 164.5,272.9 165.0,272.9 165.5,272.9 166.0,272.9 166.5,272.9 167.0,272.9 167.5,272.9" fill="none" stroke="#3b3bb0" stroke-width="1.20" stroke-linejoin="round" stroke-linecap="round" />
<polyline points="147.5,273.2 148.0,273.2 148.5,273.1 149.0,273.1 149.5,273.1 150.0,273.1 150.5,273.1 151.0,273.1 151.5,273.1 152.0,273.1 152.5,273.1 153.0,273.0 153.5,273.0 154.0,273.0 154.5,273.0 155.0,273.0 155.5,273.0 156.0,273.0 156.5,273.0 157.0,272.9 157.5,272.9 158.0,272.9 158.5,272.9 159.0,272.9 159.5,272.8 160.0,272.8 160.5,272.8 161.0,272.7 161.5,272.7 162.0,272.7 162.5,272.6 163.0,272.6 163.5,272.5 164.0,272.4 164.5,272.4 165.0,272.3 165.5,272.2 166.0,272.1 166.5,272.0 167.0,272.0 167.5,271.9 168.0,271.8 168.5,271.7 169.0,271.6 169.5,271.5 170.0,271.3 170.5,271.2 171.0,271.1 171.5,271.0 172.0,270.9 172.5,270.8 173.0,270.7 173.5,270.7 174.0,270.6 174.5,270.5 175.0,270.5 175.5,270.4 176.0,270.4 176.5,270.3 177.0,270.3 177.5,270.3 178.0,270.3 178.5,270.3 179.0,270.4 179.5,270.4 180.0,270.4 180.5,270.5 181.0,270.6 181.5,270.7 182.0,270.7 182.5,270.8 183.0,270.9 183.5,271.0 184.0,271.1 184.5,271.2 185.0,271.3 185.5,271.4 186.0,271.5 186.5,271.6 187.0,271.7 187.5,271.8 188.0,271.9 188.5,272.0 189.0,272.1 189.5,272.2 190.0,272.3 190.5,272.3 191.0,272.4 191.5,272.4 192.0,272.5 192.5,272.6 193.0,272.6 193.5,272.6 194.0,272.7 194.5,272.7 195.0,272.7 195.5,272.8 196.0,272.8 196.5,272.8 197.0,272.8 197.5,272.8 198.0,272.8 198.5,272.8 199.0,272.9 199.5,272.9 200.0,272.9 200.5,272.9 201.0,272.9 201.5,272.9 202.0,272.9 202.5,272.9 203.0,272.9 203.5,272.9 204.0,272.9 204.5,272.9 205.0,272.9 205.5,272.9 206.0,272.9 206.5,272.9 207.0,272.9 207.5,272.9" fill="none" stroke="#ff8a1a" stroke-width="1.20" stroke-linejoin="round" stroke-linecap="round" />
<polyline points="30.8,276.9 31.3,276.9 31.8,276.9 32.3,276.9 32.8,276.9 33.3,276.9 33.8,276.9 34.3,276.9 34.8,276.9 35.3,276.9 35.8,276.9 36.3,276.9 36.8,276.9 37.3,276.9 37.8,276.9 38.3,276.9 38.8,276.9 39.3,276.9 39.8,276.9 40.3,276.9 40.8,276.9 41.3,276.9 41.8,276.9 42.3,276.9 42.8,276.9 43.3,276.9 43.8,276.9 44.3,276.9 44.8,276.9 45.3,276.9 45.8,276.9 46.3,276.9 46.8,276.9 47.3,276.9 47.8,276.9 48.3,276.9 48.8,276.9 49.3,276.9 49.8,276.9 50.3,276.9 50.8,276.9 51.3,276.9 51.8,276.9 52.3,276.9 52.8,276.9 53.3,276.9 53.8,276.9 54.3,276.9 54.8,276.9 55.3,276.9 55.8,276.9 56.3,276.9 56.8,276.9 57.3,276.9 57.8,276.9 58.3,276.9 58.8,276.9 59.3,276.9 59.8,276.9 60.3,276.9 60.8,276.9 61.3,276.9 61.8,276.9 62.3,276.9 62.8,276.9 63.3,276.9 63.8,276.9 64.3,276.9 64.8,276.9 65.3,276.9 65.8,276.9 66.3,276.9 66.8,276.9 67.3,276.9 67.8,276.9 68.3,276.9 68.8,276.9 69.3,276.9 69.8,276.9 70.3,276.9 70.8,276.9 71.3,276.9 71.8,276.9 72.3,276.9 72.8,276.9 73.3,276.9 73.8,276.9 74.3,276.9 74.8,276.9 75.3,276.9 75.8,276.9 76.3,276.9 76.8,276.9 77.3,276.9 77.8,276.9 78.3,276.9 78.8,276.9 79.3,276.9 79.8,276.9 80.3,276.9 80.8,276.9 81.3,276.9 81.8,276.9 82.3,276.9 82.8,276.9 83.3,276.9 83.8,276.9 84.3,276.9 84.8,276.8 85.3,276.8 85.8,276.8 86.3,276.8 86.8,276.8 87.3,276.8 87.8,276.8 88.3,276.8 88.8,276.8 89.3,276.8 89.8,276.8 90.3,276.8 90.8,276.8 91.3,276.8 91.8,276.8 92.3,276.8 92.8,276.8 93.3,276.8 93.8,276.8 94.3,276.8 94.8,276.8 95.3,276.7 95.8,276.7 96.3,276.7 96.8,276.7 97.3,276.7 97.8,276.7 98.3,276.7 98.8,276.7 99.3,276.7 99.8,276.6" fill="none" stroke="#22dd22" stroke-width="1.60" stroke-linejoin="round" stroke-linecap="round" />
<polyline points="150.2,273.1 150.7,273.1 151.2,273.1 151.7,273.1 152.2,273.1 152.7,273.1 153.2,273.0 153.7,273.0 154.2,273.0 154.7,273.0 155.2,273.0 155.7,273.0 156.2,273.0 156.7,273.0 157.2,273.0 157.7,273.0 158.2,273.0 158.7,273.0 159.2,273.0 159.7,273.0 160.2,273.0 160.7,273.0 161.2,273.0 161.7,273.0 162.2,273.0 162.7,273.0 163.2,273.0 163.7,272.9 164.2,272.9 164.7,272.9 165.2,272.9 165.7,272.9 166.2,272.9 166.7,272.9 167.2,272.9 167.7,272.9 168.2,272.9 168.7,272.9 169.2,272.9 169.7,272.9 170.2,272.9 170.7,272.9 171.2,272.9 171.7,272.9 172.2,272.9 172.7,272.9 173.2,272.9 173.7,272.9 174.2,272.9 174.7,272.9 175.2,272.9 175.7,272.9 176.2,272.9 176.7,272.9 177.2,272.9 177.7,272.9 178.2,272.9 178.7,272.9 179.2,272.9 179.7,272.9 180.2,272.9 180.7,272.9 181.2,272.9 181.7,272.9 182.2,272.9 182.7,272.9 183.2,272.9 183.7,272.9 184.2,272.9 184.7,272.9 185.2,272.9 185.7,272.9 186.2,272.9 186.7,272.9 187.2,272.9 187.7,272.9 188.2,272.9 188.7,272.9 189.2,272.9 189.7,272.9 190.2,272.9 190.7,272.9 191.2,272.9 191.7,272.9 192.2,272.9 192.7,272.9 193.2,272.9 193.7,272.9 194.2,272.9 194.7,272.9 195.2,272.9 195.7,272.9 196.2,272.9 196.7,272.9 197.2,272.9 197.7,272.9 198.2,272.9 198.7,272.9 199.2,272.9 199.7,272.9 200.2,272.9 200.7,272.9 201.2,272.9 201.7,272.9 202.2,272.9 202.7,272.9 203.2,272.9 203.7,272.9 204.2,272.9 204.7,272.9 205.2,272.9 205.7,272.9 206.2,272.9 206.7,272.9 207.2,272.9 207.7,272.9 208.2,272.9 208.7,272.9 209.2,272.9 209.7,272.9 210.2,272.9 210.7,272.9 211.2,272.9 211.7,272.9 212.2,272.9 212.7,272.9 213.2,272.9 213.7,272.9 214.2,272.9 214.7,272.9 215.2,272.9 215.7,272.9 216.2,272.9 216.7,272.9 217.2,272.9 217.7,272.9 218.2,272.9 218.7,272.9 219.2,272.9 219.7,272.9 220.2,272.9 220.7,272.9 221.2,272.9 221.7,272.9 222.2,272.9 222.7,272.9 223.2,272.9 223.7,272.9 224.2,272.9 224.7,272.9 225.2,272.9 225.7,272.9 226.2,272.9 226.7,272.9 227.2,272.9 227.7,272.9 228.2,272.9 228.7,272.9 229.2,272.9 229.7,272.9 230.2,272.9 230.7,272.9 231.2,272.9 231.7,272.9 232.2,272.9 232.7,272.9 233.2,272.9 233.7,272.9 234.2,272.9 234.7,272.9 235.2,272.9 235.7,272.9 236.2,272.9 236.7,272.9 237.2,272.9 237.7,272.9 238.2,272.9 238.7,272.9 239.2,272.9 239.7,272.9 240.2,272.9 240.7,272.9 241.2,272.9 241.7,272.9 242.2,272.9 242.7,272.9 243.2,272.9 243.7,272.9 244.2,272.9 244.7,272.9 245.2,272.9 245.7,272.9 246.2,272.9 246.7,272.9 247.2,272.9 247.7,272.9 248.2,272.9 248.7,272.9 249.2,272.9 249.7,272.9 250.2,272.9 250.7,272.9 251.2,272.9 251.7,272.9 252.2,272.9 252.7,272.9 253.2,272.9 253.7,272.9 254.2,272.9 254.7,272.9 255.2,272.9 255.7,272.9 256.2,272.9 256.7,272.9 257.2,272.9 257.7,272.9 258.2,272.9 258.7,272.9 259.2,272.9 259.7,272.9 260.2,272.9" fill="none" stroke="#22dd22" stroke-width="1.60" stroke-linejoin="round" stroke-linecap="round" />
<polyline points="92.3,276.8 92.8,276.8 93.3,276.8 93.8,276.8 94.3,276.7 94.8,276.7 95.3,276.7 95.8,276.7 96.3,276.6 96.8,276.6 97.3,276.5 97.8,276.4 98.3,276.3 98.8,276.2 99.3,276.1 99.8,275.8 100.3,275.6 100.8,275.2 101.3,274.8 101.8,274.3 102.3,273.6 102.8,272.9 103.3,271.9 103.8,270.8 104.3,269.5 104.8,268.0 105.3,266.2 105.8,264.3 106.3,262.0 106.8,259.6 107.3,256.9 107.8,253.9 108.3,250.8 108.8,247.5 109.3,244.1 109.8,240.6 110.3,237.1 110.8,233.6 111.3,230.2 111.8,226.9 112.3,223.9 112.8,221.1 113.3,218.7 113.8,216.6 114.3,215.0 114.8,213.7 115.3,213.0 115.8,212.6 116.3,212.7 116.8,213.2 117.3,214.1 117.8,215.4 118.3,216.9 118.8,218.8 119.3,220.8 119.8,223.0 120.3,225.4 120.8,227.8 121.3,230.3 121.8,232.7 122.3,235.2 122.8,237.5 123.3,239.8 123.8,242.0 124.3,244.1 124.8,246.1 125.3,247.9 125.8,249.5 126.3,251.0 126.8,252.4 127.3,253.6 127.8,254.7 128.3,255.6 128.8,256.4 129.3,257.0 129.8,257.5 130.3,257.9 130.8,258.2 131.3,258.4 131.8,258.6 132.3,258.6 132.8,258.6 133.3,258.6 133.8,258.5 134.3,258.4 134.8,258.3 135.3,258.3 135.8,258.2 136.3,258.1 136.8,258.1 137.3,258.2 137.8,258.2 138.3,258.3 138.8,258.5 139.3,258.7 139.8,259.0 140.3,259.3 140.8,259.7 141.3,260.1 141.8,260.6 142.3,261.1 142.8,261.6 143.3,262.1 143.8,262.7 144.3,263.3 144.8,263.9 145.3,264.4 145.7,265.0 146.2,265.6 146.7,266.2 147.2,266.7 147.7,267.3 148.2,267.8 148.7,268.3 149.2,268.7 149.7,269.2 150.2,269.6 150.7,269.9 151.2,270.3 151.7,270.6 152.2,270.9 152.7,271.1 153.2,271.4 153.7,271.6 154.2,271.8 154.7,271.9 155.2,272.1 155.7,272.2 156.2,272.3 156.7,272.4 157.2,272.5 157.7,272.5 158.2,272.6 158.7,272.6 159.2,272.6 159.7,272.6" fill="none" stroke="#2d4c9e" stroke-width="1.70" stroke-linejoin="round" stroke-linecap="round" />
<polyline points="30.8,353.6 31.3,353.8 31.8,354.0 32.3,353.8 32.8,353.5 33.3,353.5 33.8,354.0 34.3,353.8 34.8,353.5 35.3,353.8 35.8,353.4 36.3,354.1 36.8,353.7 37.3,353.7 37.8,353.7 38.3,353.3 38.8,353.8 39.3,353.5 39.8,353.5 40.3,353.9 40.8,353.4 41.3,353.5 41.8,353.9 42.3,353.5 42.8,353.5 43.3,353.7 43.8,353.4 44.3,354.0 44.8,354.1 45.3,353.3 45.8,353.7 46.3,353.9 46.8,353.6 47.3,354.0 47.8,353.7 48.3,353.4 48.8,353.7 49.3,353.8 49.8,353.6 50.3,353.8 50.8,353.9 51.3,353.7 51.8,353.7 52.3,354.0 52.8,353.8 53.3,353.7 53.8,354.1 54.3,353.4 54.8,353.9 55.3,353.4 55.8,353.8 56.3,353.5 56.8,353.6 57.3,353.9 57.8,353.9 58.3,353.9 58.8,353.5 59.3,353.7 59.8,353.5 60.3,353.8 60.8,353.7 61.3,353.3 61.8,353.8 62.3,353.9 62.8,353.7 63.3,354.0 63.8,353.4 64.3,353.4 64.8,353.3 65.3,353.7 65.8,353.6 66.3,353.6 66.8,353.5 67.3,353.9 67.8,353.3 68.3,354.0 68.8,353.7 69.3,353.7 69.8,353.9 70.3,353.5 70.8,353.4 71.3,353.5 71.8,353.3 72.3,353.5 72.8,353.8 73.3,353.7 73.8,353.5 74.3,353.7 74.8,353.3 75.3,353.9 75.8,353.4 76.3,353.5 76.8,353.4 77.3,353.8 77.8,353.9 78.3,353.9 78.8,353.3 79.3,353.6 79.8,353.5 80.3,353.4 80.8,354.0 81.3,353.3 81.8,353.6 82.3,353.8 82.8,354.0 83.3,353.3 83.8,353.6 84.3,353.8 84.8,353.2 85.3,353.4 85.8,353.9 86.3,353.3 86.8,353.5 87.3,353.4 87.8,353.5 88.3,353.2 88.8,353.2 89.3,353.9 89.8,353.7 90.3,353.7 90.8,353.3 91.3,353.2 91.8,353.5 92.3,353.2 92.8,353.3 93.3,353.7 93.8,353.2 94.3,353.1 94.8,353.6 95.3,352.4 95.8,352.3 96.3,352.2 96.8,352.1 97.3,352.0 97.8,351.8 98.3,351.6 98.8,351.4 99.3,351.1 99.8,350.8 100.3,350.3 100.8,349.8 101.3,349.2 101.8,348.4 102.3,347.5 102.8,346.4 103.3,345.1 103.8,343.6 104.3,341.8 104.8,339.8 105.3,337.5 105.8,334.9 106.3,332.1 106.8,329.1 107.3,325.8 107.8,322.3 108.3,318.7 108.8,315.1 109.3,311.5 109.8,308.0 110.3,304.7 110.8,301.6 111.3,298.9 111.8,296.6 112.3,294.7 112.8,293.4 113.3,292.6 113.8,292.3 114.3,292.6 114.8,293.4 115.3,294.7 115.8,296.4 116.3,298.4 116.8,300.7 117.3,303.1 117.8,305.7 118.3,308.3 118.8,310.8 119.3,313.3 119.8,315.7 120.3,317.9 120.8,320.0 121.3,321.9 121.8,323.6 122.3,325.1 122.8,326.4 123.3,327.6 123.8,328.7 124.3,329.6 124.8,330.5 125.3,331.2 125.8,331.9 126.3,332.6 126.8,333.2 127.3,333.8 127.8,334.3 128.3,334.8 128.8,335.2 129.3,335.7 129.8,336.0 130.3,336.4 130.8,336.6 131.3,336.9 131.8,337.1 132.3,337.2 132.8,337.3 133.3,337.3 133.8,337.3 134.3,337.3 134.8,337.3 135.3,337.2 135.8,337.2 136.3,337.2 136.8,337.3 137.3,337.4 137.8,337.5 138.3,337.7 138.8,337.9 139.3,338.1 139.8,338.4 140.3,338.7 140.8,339.0 141.3,339.4 141.8,339.8 142.3,340.2 142.8,340.6 143.3,341.1 143.8,341.6 144.3,342.1 144.8,342.5 145.3,343.0 145.7,343.5 146.2,344.0 146.7,344.5 147.2,344.9 147.7,345.3 148.2,345.7 148.7,346.1 149.2,346.4 149.7,346.7 150.2,346.9 150.7,347.2 151.2,347.4 151.7,347.5 152.2,347.7 152.7,347.8 153.2,347.9 153.7,348.0 154.2,348.0 154.7,348.1 155.2,348.1 155.7,348.1 156.2,348.2 156.7,348.2 157.2,348.2 157.7,348.1 158.2,348.1 158.7,348.1 159.2,348.1 159.7,348.0 160.2,348.0 160.7,347.9 161.2,347.9 161.7,347.8 162.2,347.8 162.7,347.7 163.2,347.6 163.7,347.6 164.2,347.5 164.7,347.4 165.2,347.3 165.7,347.3 166.2,347.2 166.7,347.1 167.2,347.0 167.7,346.9 168.2,346.8 168.7,346.8 169.2,346.7 169.7,346.6 170.2,346.5 170.7,346.5 171.2,346.4 171.7,346.4 172.2,346.3 172.7,346.3 173.2,346.3 173.7,346.2 174.2,346.2 174.7,346.2 175.2,346.2 175.7,346.3 176.2,346.3 176.7,346.3 177.2,346.4 177.7,346.4 178.2,346.5 178.7,346.5 179.2,346.6 179.7,346.7 180.2,346.7 180.7,346.8 181.2,346.9 181.7,347.0 182.2,347.0 182.7,347.1 183.2,347.2 183.7,347.3 184.2,347.3 184.7,347.4 185.2,348.3 185.7,347.9 186.2,348.2 186.7,348.5 187.2,348.1 187.7,348.4 188.2,348.7 188.7,348.9 189.2,348.7 189.7,349.0 190.2,348.7 190.7,348.6 191.2,349.0 191.7,348.7 192.2,349.0 192.7,348.6 193.2,348.7 193.7,348.6 194.2,348.9 194.7,348.6 195.2,348.6 195.7,348.6 196.2,348.8 196.7,348.7 197.2,348.8 197.7,349.3 198.2,349.0 198.7,349.2 199.2,348.7 199.7,348.8 200.2,348.6 200.7,349.1 201.2,348.8 201.7,348.7 202.2,348.5 202.7,348.6 203.2,348.7 203.7,348.8 204.2,349.2 204.7,349.1 205.2,348.7 205.7,348.8 206.2,348.6 206.7,349.3 207.2,348.8 207.7,349.1 208.2,349.1 208.7,349.2 209.2,348.5 209.7,348.8 210.2,348.8 210.7,348.6 211.2,349.2 211.7,348.8 212.2,349.1 212.7,348.9 213.2,348.5 213.7,348.8 214.2,348.7 214.7,348.5 215.2,348.6 215.7,349.0 216.2,348.5 216.7,348.8 217.2,348.8 217.7,348.9 218.2,348.6 218.7,349.1 219.2,348.7 219.7,349.1 220.2,349.0 220.7,348.6 221.2,348.7 221.7,348.7 222.2,349.1 222.7,348.8 223.2,348.8 223.7,349.2 224.2,348.7 224.7,348.7 225.2,348.8 225.7,348.7 226.2,348.5 226.7,348.5 227.2,349.0 227.7,349.0 228.2,349.1 228.7,349.3 229.2,348.7 229.7,349.0 230.2,349.2 230.7,348.7 231.2,349.1 231.7,349.0 232.2,349.3 232.7,349.2 233.2,348.7 233.7,349.0 234.2,348.6 234.7,348.8 235.2,348.8 235.7,348.5 236.2,348.8 236.7,348.8 237.2,348.9 237.7,348.7 238.2,348.6 238.7,348.8 239.2,348.9 239.7,348.6 240.2,349.0 240.7,348.7 241.2,348.6 241.7,348.8 242.2,348.8 242.7,348.6 243.2,349.0 243.7,349.1 244.2,348.9 244.7,349.1 245.2,348.5 245.7,348.8 246.2,348.8 246.7,348.6 247.2,348.8 247.7,348.5 248.2,348.9 248.7,349.0 249.2,348.9 249.7,348.8 250.2,348.7 250.7,348.5 251.2,348.8 251.7,349.2 252.2,349.0 252.7,348.7 253.2,349.0 253.7,348.6 254.2,348.9 254.7,349.0 255.2,349.3 255.7,348.8 256.2,349.0 256.7,349.3 257.2,349.1 257.7,349.0 258.2,349.0 258.7,348.8 259.2,348.8 259.7,348.7 260.2,349.2" fill="none" stroke="#f04040" stroke-width="1.10" stroke-linejoin="round" stroke-linecap="round" />
<polyline points="30.8,352.8 31.3,352.8 31.8,352.8 32.3,352.8 32.8,352.8 33.3,352.8 33.8,352.8 34.3,352.8 34.8,352.8 35.3,352.8 35.8,352.8 36.3,352.8 36.8,352.8 37.3,352.8 37.8,352.8 38.3,352.8 38.8,352.8 39.3,352.8 39.8,352.8 40.3,352.8 40.8,352.8 41.3,352.8 41.8,352.8 42.3,352.8 42.8,352.8 43.3,352.8 43.8,352.8 44.3,352.8 44.8,352.8 45.3,352.8 45.8,352.8 46.3,352.8 46.8,352.8 47.3,352.8 47.8,352.8 48.3,352.8 48.8,352.8 49.3,352.8 49.8,352.8 50.3,352.8 50.8,352.8 51.3,352.8 51.8,352.8 52.3,352.8 52.8,352.8 53.3,352.8 53.8,352.8 54.3,352.8 54.8,352.8 55.3,352.8 55.8,352.8 56.3,352.8 56.8,352.8 57.3,352.8 57.8,352.8 58.3,352.8 58.8,352.8 59.3,352.8 59.8,352.8 60.3,352.8 60.8,352.8 61.3,352.8 61.8,352.8 62.3,352.8 62.8,352.8 63.3,352.8 63.8,352.8 64.3,352.8 64.8,352.8 65.3,352.8 65.8,352.8 66.3,352.8 66.8,352.8 67.3,352.8 67.8,352.8 68.3,352.8 68.8,352.8 69.3,352.8 69.8,352.8 70.3,352.8 70.8,352.8 71.3,352.8 71.8,352.8 72.3,352.8 72.8,352.8 73.3,352.8 73.8,352.8 74.3,352.8 74.8,352.8 75.3,352.8 75.8,352.8 76.3,352.8 76.8,352.8 77.3,352.8 77.8,352.8 78.3,352.8 78.8,352.7 79.3,352.7 79.8,352.7 80.3,352.7 80.8,352.7 81.3,352.7 81.8,352.7 82.3,352.7 82.8,352.7 83.3,352.7 83.8,352.7 84.3,352.7 84.8,352.7 85.3,352.7 85.8,352.7 86.3,352.7 86.8,352.7 87.3,352.7 87.8,352.7 88.3,352.7 88.8,352.7 89.3,352.7 89.8,352.6 90.3,352.6 90.8,352.6 91.3,352.6 91.8,352.6 92.3,352.6 92.8,352.6 93.3,352.6 93.8,352.6 94.3,352.6 94.8,352.6 95.3,352.5 95.8,352.5 96.3,352.5 96.8,352.5 97.3,352.5 97.8,352.5 98.3,352.5 98.8,352.4 99.3,352.4 99.8,352.4 100.3,352.4 100.8,352.4 101.3,352.4 101.8,352.3 102.3,352.3 102.8,352.3 103.3,352.3 103.8,352.2 104.3,352.2 104.8,352.2 105.3,352.2 105.8,352.1 106.3,352.1 106.8,352.1 107.3,352.0 107.8,352.0 108.3,352.0 108.8,351.9 109.3,351.9 109.8,351.9 110.3,351.8 110.8,351.8 111.3,351.8 111.8,351.7 112.3,351.7 112.8,351.6 113.3,351.6 113.8,351.5 114.3,351.5 114.8,351.4 115.3,351.4 115.8,351.3 116.3,351.3 116.8,351.2 117.3,351.2 117.8,351.1 118.3,351.1 118.8,351.0 119.3,351.0 119.8,350.9 120.3,350.8 120.8,350.8 121.3,350.7 121.8,350.7 122.3,350.6 122.8,350.5 123.3,350.5 123.8,350.4 124.3,350.4 124.8,350.3 125.3,350.2 125.8,350.2 126.3,350.1 126.8,350.1 127.3,350.0 127.8,350.0 128.3,349.9 128.8,349.8 129.3,349.8 129.8,349.7 130.3,349.7 130.8,349.6 131.3,349.6 131.8,349.5 132.3,349.5 132.8,349.4 133.3,349.4 133.8,349.3 134.3,349.3 134.8,349.2 135.3,349.2 135.8,349.1 136.3,349.1 136.8,349.0 137.3,349.0 137.8,349.0 138.3,348.9 138.8,348.9 139.3,348.9 139.8,348.8 140.3,348.8 140.8,348.8 141.3,348.7 141.8,348.7 142.3,348.7 142.8,348.6 143.3,348.6 143.8,348.6 144.3,348.6 144.8,348.5 145.3,348.5 145.7,348.5 146.2,348.5 146.7,348.4 147.2,348.4 147.7,348.4 148.2,348.4 148.7,348.4 149.2,348.4 149.7,348.3 150.2,348.3 150.7,348.3 151.2,348.3 151.7,348.3 152.2,348.3 152.7,348.3 153.2,348.2 153.7,348.2 154.2,348.2 154.7,348.2 155.2,348.2 155.7,348.2 156.2,348.2 156.7,348.2 157.2,348.2 157.7,348.2 158.2,348.2 158.7,348.1 159.2,348.1 159.7,348.1 160.2,348.1 160.7,348.1 161.2,348.1 161.7,348.1 162.2,348.1 162.7,348.1 163.2,348.1 163.7,348.1 164.2,348.1 164.7,348.1 165.2,348.1 165.7,348.1 166.2,348.1 166.7,348.1 167.2,348.1 167.7,348.1 168.2,348.1 168.7,348.1 169.2,348.1 169.7,348.0 170.2,348.0 170.7,348.0 171.2,348.0 171.7,348.0 172.2,348.0 172.7,348.0 173.2,348.0 173.7,348.0 174.2,348.0 174.7,348.0 175.2,348.0 175.7,348.0 176.2,348.0 176.7,348.0 177.2,348.0 177.7,348.0 178.2,348.0 178.7,348.0 179.2,348.0 179.7,348.0 180.2,348.0 180.7,348.0 181.2,348.0 181.7,348.0 182.2,348.0 182.7,348.0 183.2,348.0 183.7,348.0 184.2,348.0 184.7,348.0 185.2,348.0 185.7,348.0 186.2,348.0 186.7,348.0 187.2,348.0 187.7,348.0 188.2,348.0 188.7,348.0 189.2,348.0 189.7,348.0 190.2,348.0 190.7,348.0 191.2,348.0 191.7,348.0 192.2,348.0 192.7,348.0 193.2,348.0 193.7,348.0 194.2,348.0 194.7,348.0 195.2,348.0 195.7,348.0 196.2,348.0 196.7,348.0 197.2,348.0 197.7,348.0 198.2,348.0 198.7,348.0 199.2,348.0 199.7,348.0 200.2,348.0 200.7,348.0 201.2,348.0 201.7,348.0 202.2,348.0 202.7,348.0 203.2,348.0 203.7,348.0 204.2,348.0 204.7,348.0 205.2,348.0 205.7,348.0 206.2,348.0 206.7,348.0 207.2,348.0 207.7,348.0 208.2,348.0 208.7,348.0 209.2,348.0 209.7,348.0 210.2,348.0 210.7,348.0 211.2,348.0 211.7,348.0 212.2,348.0 212.7,348.0 213.2,348.0 213.7,348.0 214.2,348.0 214.7,348.0 215.2,348.0 215.7,348.0 216.2,348.0 216.7,348.0 217.2,348.0 217.7,348.0 218.2,348.0 218.7,348.0 219.2,348.0 219.7,348.0 220.2,348.0 220.7,348.0 221.2,348.0 221.7,348.0 222.2,348.0 222.7,348.0 223.2,348.0 223.7,348.0 224.2,348.0 224.7,348.0 225.2,348.0 225.7,348.0 226.2,348.0 226.7,348.0 227.2,348.0 227.7,348.0 228.2,348.0 228.7,348.0 229.2,348.0 229.7,348.0 230.2,348.0 230.7,348.0 231.2,348.0 231.7,348.0 232.2,348.0 232.7,348.0 233.2,348.0 233.7,348.0 234.2,348.0 234.7,348.0 235.2,348.0 235.7,348.0 236.2,348.0 236.7,348.0 237.2,348.0 237.7,348.0 238.2,348.0 238.7,348.0 239.2,348.0 239.7,348.0 240.2,348.0 240.7,348.0 241.2,348.0 241.7,348.0 242.2,348.0 242.7,348.0 243.2,348.0 243.7,348.0 244.2,348.0 244.7,348.0 245.2,348.0 245.7,348.0 246.2,348.0 246.7,348.0 247.2,348.0 247.7,348.0 248.2,348.0 248.7,348.0 249.2,348.0 249.7,348.0 250.2,348.0 250.7,348.0 251.2,348.0 251.7,348.0 252.2,348.0 252.7,348.0 253.2,348.0 253.7,348.0 254.2,348.0 254.7,348.0 255.2,348.0 255.7,348.0 256.2,348.0 256.7,348.0 257.2,348.0 257.7,348.0 258.2,348.0 258.7,348.0 259.2,348.0 259.7,348.0 260.2,348.0" fill="none" stroke="#8894a8" stroke-width="1.10" stroke-linejoin="round" stroke-linecap="round" />
<polyline points="94.7,352.5 95.2,352.5 95.7,352.5 96.2,352.5 96.7,352.4 97.2,352.4 97.7,352.3 98.2,352.2 98.7,352.1 99.2,352.0 99.7,351.8 100.2,351.5 100.7,351.2 101.2,350.8 101.7,350.2 102.2,349.6 102.7,348.8 103.2,347.8 103.7,346.7 104.1,345.3 104.6,343.7 105.1,341.9 105.6,339.8 106.1,337.5 106.6,334.9 107.1,332.2 107.6,329.3 108.1,326.3 108.6,323.3 109.1,320.3 109.6,317.3 110.1,314.6 110.6,312.1 111.1,309.9 111.6,308.1 112.1,306.7 112.6,305.9 113.1,305.6 113.6,305.8 114.1,306.6 114.6,307.8 115.1,309.5 115.6,311.6 116.1,314.0 116.6,316.7 117.1,319.6 117.6,322.5 118.1,325.4 118.6,328.4 119.1,331.2 119.6,333.8 120.1,336.2 120.6,338.5 121.1,340.4 121.6,342.2 122.1,343.7 122.5,345.0 123.0,346.1 123.5,347.0 124.0,347.7 124.5,348.2 125.0,348.7 125.5,349.0 126.0,349.3 126.5,349.4 127.0,349.6 127.5,349.6 128.0,349.7 128.5,349.7 129.0,349.7 129.5,349.7 130.0,349.6 130.5,349.6 131.0,349.6 131.5,349.5" fill="none" stroke="#22dd22" stroke-width="1.60" stroke-linejoin="round" stroke-linecap="round" />
<polyline points="85.2,352.7 85.7,352.7 86.2,352.7 86.7,352.7 87.2,352.7 87.7,352.7 88.2,352.6 88.7,352.6 89.2,352.6 89.7,352.6 90.2,352.6 90.7,352.6 91.2,352.6 91.7,352.5 92.2,352.5 92.7,352.5 93.2,352.4 93.7,352.4 94.2,352.4 94.7,352.3 95.2,352.2 95.7,352.2 96.2,352.1 96.7,352.0 97.2,351.9 97.7,351.8 98.2,351.7 98.7,351.6 99.2,351.4 99.7,351.3 100.2,351.1 100.7,350.9 101.2,350.7 101.7,350.5 102.2,350.2 102.7,349.9 103.2,349.6 103.7,349.3 104.2,348.9 104.7,348.6 105.2,348.1 105.7,347.7 106.2,347.2 106.7,346.8 107.2,346.2 107.7,345.7 108.2,345.1 108.7,344.5 109.2,343.9 109.7,343.3 110.2,342.6 110.7,341.9 111.2,341.2 111.7,340.5 112.2,339.8 112.7,339.1 113.2,338.4 113.7,337.8 114.2,337.1 114.7,336.4 115.2,335.8 115.7,335.2 116.2,334.6 116.7,334.0 117.2,333.5 117.7,333.1 118.2,332.6 118.7,332.3 119.2,331.9 119.7,331.7 120.2,331.5 120.7,331.3 121.2,331.2 121.7,331.2 122.2,331.2 122.7,331.3 123.2,331.5 123.7,331.7 124.2,331.9 124.7,332.2 125.2,332.6 125.7,333.0 126.2,333.4 126.7,333.9 127.2,334.4 127.7,334.9 128.2,335.5 128.7,336.1 129.2,336.7 129.7,337.3 130.2,337.9 130.7,338.5 131.2,339.1 131.7,339.6 132.2,340.2 132.7,340.8 133.2,341.4 133.7,341.9 134.2,342.4 134.7,342.9 135.2,343.4 135.7,343.8 136.2,344.2 136.7,344.6 137.2,345.0 137.7,345.3 138.2,345.7 138.7,346.0 139.2,346.2 139.7,346.5 140.2,346.7 140.7,346.9 141.2,347.1 141.7,347.2 142.2,347.4 142.7,347.5 143.2,347.6 143.7,347.7 144.2,347.8 144.7,347.9 145.2,348.0 145.7,348.0 146.2,348.1 146.7,348.1 147.2,348.1 147.7,348.2 148.2,348.2 148.7,348.2 149.2,348.2 149.7,348.2 150.2,348.2 150.7,348.2 151.2,348.2 151.7,348.2 152.2,348.2 152.7,348.2 153.2,348.2 153.7,348.2 154.2,348.2 154.7,348.2 155.2,348.2 155.7,348.2 156.2,348.2 156.7,348.2 157.2,348.2" fill="none" stroke="#8d8d8d" stroke-width="1.00" stroke-linejoin="round" stroke-linecap="round" />
<polyline points="118.2,351.1 118.7,351.0 119.2,351.0 119.7,350.9 120.2,350.8 120.7,350.8 121.2,350.7 121.7,350.6 122.2,350.6 122.7,350.5 123.2,350.4 123.7,350.3 124.2,350.3 124.7,350.2 125.2,350.1 125.7,350.0 126.2,349.8 126.7,349.7 127.2,349.5 127.7,349.4 128.2,349.2 128.7,349.0 129.2,348.7 129.7,348.5 130.2,348.2 130.7,347.9 131.2,347.5 131.7,347.2 132.2,346.8 132.7,346.3 133.2,345.9 133.7,345.4 134.2,345.0 134.7,344.5 135.2,344.0 135.7,343.6 136.2,343.1 136.7,342.7 137.2,342.3 137.7,341.9 138.2,341.6 138.7,341.4 139.2,341.2 139.7,341.1 140.2,341.0 140.7,341.0 141.2,341.1 141.7,341.2 142.2,341.4 142.7,341.6 143.2,341.9 143.7,342.2 144.2,342.6 144.7,343.0 145.2,343.4 145.7,343.8 146.2,344.2 146.7,344.6 147.2,345.0 147.7,345.3 148.2,345.7 148.7,346.0 149.2,346.3 149.7,346.6 150.2,346.8 150.7,347.1 151.2,347.2 151.7,347.4 152.2,347.5 152.7,347.7 153.2,347.8 153.7,347.9 154.2,347.9 154.7,348.0 155.2,348.0 155.7,348.0 156.2,348.1 156.7,348.1 157.2,348.1 157.7,348.1 158.2,348.1 158.7,348.1 159.2,348.1 159.7,348.1 160.2,348.1 160.7,348.1 161.2,348.1 161.7,348.1 162.2,348.1" fill="none" stroke="#3b3bb0" stroke-width="1.20" stroke-linejoin="round" stroke-linecap="round" />
<polyline points="144.5,348.5 145.0,348.5 145.5,348.5 146.0,348.5 146.5,348.5 147.0,348.4 147.5,348.4 148.0,348.4 148.5,348.4 149.0,348.4 149.5,348.3 150.0,348.3 150.5,348.3 151.0,348.3 151.5,348.3 152.0,348.3 152.5,348.2 153.0,348.2 153.5,348.2 154.0,348.2 154.5,348.2 155.0,348.1 155.5,348.1 156.0,348.1 156.5,348.1 157.0,348.0 157.5,348.0 158.0,348.0 158.5,347.9 159.0,347.9 159.5,347.9 160.0,347.8 160.5,347.8 161.0,347.7 161.5,347.7 162.0,347.6 162.5,347.5 163.0,347.5 163.5,347.4 164.0,347.3 164.5,347.3 165.0,347.2 165.5,347.1 166.0,347.0 166.5,346.9 167.0,346.9 167.5,346.8 168.0,346.7 168.5,346.6 169.0,346.5 169.5,346.4 170.0,346.4 170.5,346.3 171.0,346.2 171.5,346.2 172.0,346.1 172.5,346.1 173.0,346.1 173.5,346.1 174.0,346.0 174.5,346.0 175.0,346.0 175.5,346.0 176.0,346.1 176.5,346.1 177.0,346.1 177.5,346.2 178.0,346.2 178.5,346.3 179.0,346.3 179.5,346.4 180.0,346.5 180.5,346.6 181.0,346.6 181.5,346.7 182.0,346.8 182.5,346.9 183.0,347.0 183.5,347.0 184.0,347.1 184.5,347.2 185.0,347.3 185.5,347.3 186.0,347.4 186.5,347.5 187.0,347.5 187.5,347.6 188.0,347.6 188.5,347.7 189.0,347.7 189.5,347.7 190.0,347.8 190.5,347.8 191.0,347.8 191.5,347.9 192.0,347.9 192.5,347.9 193.0,347.9 193.5,347.9 194.0,347.9 194.5,347.9 195.0,348.0 195.5,348.0 196.0,348.0 196.5,348.0 197.0,348.0 197.5,348.0 198.0,348.0 198.5,348.0 199.0,348.0 199.5,348.0 200.0,348.0 200.5,348.0 201.0,348.0 201.5,348.0 202.0,348.0 202.5,348.0 203.0,348.0 203.5,348.0 204.0,348.0 204.5,348.0" fill="none" stroke="#2cb060" stroke-width="1.10" stroke-linejoin="round" stroke-linecap="round" />
<polyline points="110.0,351.9 110.5,351.8 111.0,351.8 111.5,351.7 112.0,351.7 112.5,351.6 113.0,351.6 113.5,351.6 114.0,351.5 114.5,351.5 115.0,351.4 115.5,351.4 116.0,351.3 116.5,351.3 117.0,351.2 117.5,351.2 118.0,351.1 118.5,351.0 119.0,351.0 119.5,350.9 120.0,350.9 120.5,350.8 121.0,350.8 121.5,350.7 122.0,350.6 122.5,350.6 123.0,350.5 123.5,350.5 124.0,350.4 124.5,350.3 125.0,350.3 125.5,350.2 126.0,350.2 126.5,350.1 127.0,350.0 127.5,350.0 128.0,349.9 128.5,349.9 129.0,349.8 129.5,349.8 130.0,349.7 130.5,349.6 131.0,349.6 131.5,349.5 132.0,349.5 132.5,349.4 133.0,349.4 133.5,349.3 134.0,349.3 134.5,349.2 135.0,349.2 135.5,349.2 136.0,349.1 136.5,349.1 137.0,349.0 137.5,349.0 138.0,348.9 138.5,348.9 139.0,348.9 139.5,348.8 140.0,348.8 140.5,348.8 141.0,348.7 141.5,348.7 142.0,348.7 142.5,348.7 143.0,348.6 143.5,348.6 144.0,348.6 144.5,348.5 145.0,348.5 145.5,348.5 146.0,348.5 146.5,348.5 147.0,348.4 147.5,348.4 148.0,348.4 148.5,348.4 149.0,348.4 149.5,348.3 150.0,348.3 150.5,348.3 151.0,348.3 151.5,348.3 152.0,348.3 152.5,348.3 153.0,348.3 153.5,348.2 154.0,348.2 154.5,348.2 155.0,348.2 155.5,348.2 156.0,348.2 156.5,348.2 157.0,348.2 157.5,348.2 158.0,348.2 158.5,348.1 159.0,348.1 159.5,348.1 160.0,348.1 160.5,348.1 161.0,348.1 161.5,348.1 162.0,348.1 162.5,348.1 163.0,348.1 163.5,348.1 164.0,348.1 164.5,348.1 165.0,348.1 165.5,348.1 166.0,348.1 166.5,348.1 167.0,348.1 167.5,348.1 168.0,348.1 168.5,348.1 169.0,348.1 169.5,348.1 170.0,348.0 170.5,348.0 171.0,348.0 171.5,348.0 172.0,348.0 172.5,348.0 173.0,348.0 173.5,348.0 174.0,348.0 174.5,348.0 175.0,348.0" fill="none" stroke="#3b3bb0" stroke-width="1.00" stroke-linejoin="round" stroke-linecap="round" />
<polyline points="92.3,352.5 92.8,352.5 93.3,352.4 93.8,352.4 94.3,352.3 94.8,352.3 95.3,352.2 95.8,352.1 96.3,352.0 96.8,351.9 97.3,351.8 97.8,351.6 98.3,351.4 98.8,351.2 99.3,350.9 99.8,350.6 100.3,350.1 100.8,349.6 101.3,349.0 101.8,348.2 102.3,347.3 102.8,346.2 103.3,344.9 103.8,343.4 104.3,341.6 104.8,339.6 105.3,337.3 105.8,334.7 106.3,331.9 106.8,328.9 107.3,325.6 107.8,322.1 108.3,318.5 108.8,314.9 109.3,311.3 109.8,307.8 110.3,304.5 110.8,301.4 111.3,298.7 111.8,296.4 112.3,294.5 112.8,293.2 113.3,292.4 113.8,292.1 114.3,292.4 114.8,293.2 115.3,294.5 115.8,296.2 116.3,298.2 116.8,300.5 117.3,302.9 117.8,305.5 118.3,308.1 118.8,310.6 119.3,313.1 119.8,315.5 120.3,317.7 120.8,319.8 121.3,321.7 121.8,323.4 122.3,324.9 122.8,326.2 123.3,327.4 123.8,328.5 124.3,329.4 124.8,330.3 125.3,331.0 125.8,331.7 126.3,332.4 126.8,333.0 127.3,333.6 127.8,334.1 128.3,334.6 128.8,335.1 129.3,335.5 129.8,336.0 130.3,336.4 130.8,336.7 131.3,337.0 131.8,337.3 132.3,337.5 132.8,337.7 133.3,337.9 133.8,338.0 134.3,338.1 134.8,338.2 135.3,338.2 135.8,338.2 136.3,338.2 136.8,338.3 137.3,338.3 137.8,338.3 138.3,338.4 138.8,338.4 139.3,338.6 139.8,338.7 140.3,338.9 140.8,339.2 141.3,339.4 141.8,339.8 142.3,340.1 142.8,340.5 143.3,341.0 143.8,341.4 144.3,341.9 144.8,342.4 145.3,342.8 145.7,343.3 146.2,343.8 146.7,344.3 147.2,344.7 147.7,345.1 148.2,345.5 148.7,345.9 149.2,346.2 149.7,346.5 150.2,346.7 150.7,347.0 151.2,347.2 151.7,347.3 152.2,347.5 152.7,347.6 153.2,347.7 153.7,347.8 154.2,347.8 154.7,347.9 155.2,347.9 155.7,347.9 156.2,348.0 156.7,348.0 157.2,348.0 157.7,347.9 158.2,347.9 158.7,347.9 159.2,347.9 159.7,347.8 160.2,347.8 160.7,347.7 161.2,347.7 161.7,347.6 162.2,347.6 162.7,347.5 163.2,347.4 163.7,347.4 164.2,347.3 164.7,347.2" fill="none" stroke="#2d4c9e" stroke-width="1.70" stroke-linejoin="round" stroke-linecap="round" />
<text x="63.10" y="223.10" font-size="8.40" font-family="Liberation Sans, sans-serif" font-weight="bold" text-anchor="start" fill="#000" textLength="34.00" lengthAdjust="spacingAndGlyphs" >398.4 eV</text>
<text x="63.10" y="234.00" font-size="8.40" font-family="Liberation Sans, sans-serif" font-weight="bold" text-anchor="start" fill="#000" textLength="28.60" lengthAdjust="spacingAndGlyphs" >40.07%</text>
<line x1="98.30" y1="225.60" x2="111.70" y2="236.60" stroke="#333" stroke-width="0.80"/>
<polygon points="98.30,225.60 101.57,226.34 99.67,228.66" fill="#111"/>
<text x="128.20" y="213.80" font-size="8.40" font-family="Liberation Sans, sans-serif" font-weight="bold" text-anchor="start" fill="#000" textLength="34.40" lengthAdjust="spacingAndGlyphs" >398.9 eV</text>
<text x="128.20" y="225.20" font-size="8.40" font-family="Liberation Sans, sans-serif" font-weight="bold" text-anchor="start" fill="#000" textLength="27.80" lengthAdjust="spacingAndGlyphs" >33.85%</text>
<line x1="127.80" y1="226.80" x2="120.00" y2="246.00" stroke="#333" stroke-width="0.80"/>
<polygon points="127.80,226.80 128.06,230.14 125.28,229.01" fill="#111"/>
<text x="148.70" y="238.50" font-size="8.40" font-family="Liberation Sans, sans-serif" font-weight="bold" text-anchor="start" fill="#000" textLength="36.60" lengthAdjust="spacingAndGlyphs" >400.5 eV</text>
<text x="148.70" y="250.50" font-size="8.40" font-family="Liberation Sans, sans-serif" font-weight="bold" text-anchor="start" fill="#000" textLength="28.60" lengthAdjust="spacingAndGlyphs" >21.93%</text>
<line x1="146.80" y1="251.80" x2="137.50" y2="259.80" stroke="#333" stroke-width="0.80"/>
<polygon points="146.80,251.80 145.50,254.89 143.55,252.62" fill="#111"/>
<text x="190.00" y="250.50" font-size="8.40" font-family="Liberation Sans, sans-serif" font-weight="bold" text-anchor="start" fill="#000" textLength="33.90" lengthAdjust="spacingAndGlyphs" >404.3 eV</text>
<text x="190.00" y="261.70" font-size="8.40" font-family="Liberation Sans, sans-serif" font-weight="bold" text-anchor="start" fill="#000" textLength="23.20" lengthAdjust="spacingAndGlyphs" >4.15%</text>
<line x1="186.60" y1="256.00" x2="176.50" y2="269.50" stroke="#333" stroke-width="0.80"/>
<polygon points="186.60,256.00 186.00,259.30 183.60,257.50" fill="#111"/>
<text x="212.60" y="223.50" font-size="9.00" font-family="Liberation Serif, serif" font-weight="bold" textLength="29.60" lengthAdjust="spacingAndGlyphs">g-C<tspan dy="4.40" font-size="7.00">3</tspan><tspan dy="-4.40" font-size="9.00">N</tspan><tspan dy="4.40" font-size="7.00">4</tspan></text>
<text x="65.60" y="292.60" font-size="8.40" font-family="Liberation Sans, sans-serif" font-weight="bold" text-anchor="start" fill="#000" textLength="34.60" lengthAdjust="spacingAndGlyphs" >398.3 eV</text>
<text x="65.60" y="303.60" font-size="8.40" font-family="Liberation Sans, sans-serif" font-weight="bold" text-anchor="start" fill="#000" textLength="28.30" lengthAdjust="spacingAndGlyphs" >46.96%</text>
<line x1="102.00" y1="295.90" x2="111.70" y2="305.60" stroke="#333" stroke-width="0.80"/>
<polygon points="102.00,295.90 105.18,296.96 103.06,299.08" fill="#111"/>
<text x="124.70" y="293.00" font-size="8.40" font-family="Liberation Sans, sans-serif" font-weight="bold" text-anchor="start" fill="#000" textLength="34.70" lengthAdjust="spacingAndGlyphs" >399.1 eV</text>
<text x="124.70" y="304.50" font-size="8.40" font-family="Liberation Sans, sans-serif" font-weight="bold" text-anchor="start" fill="#000" textLength="28.60" lengthAdjust="spacingAndGlyphs" >38.12%</text>
<line x1="130.00" y1="306.30" x2="123.90" y2="330.00" stroke="#333" stroke-width="0.80"/>
<polygon points="130.00,306.30 130.70,309.58 127.80,308.83" fill="#111"/>
<text x="156.20" y="319.70" font-size="8.40" font-family="Liberation Sans, sans-serif" font-weight="bold" text-anchor="start" fill="#000" textLength="35.70" lengthAdjust="spacingAndGlyphs" >400.8 eV</text>
<text x="156.20" y="330.30" font-size="8.40" font-family="Liberation Sans, sans-serif" font-weight="bold" text-anchor="start" fill="#000" textLength="29.10" lengthAdjust="spacingAndGlyphs" >12.05%</text>
<line x1="154.60" y1="327.00" x2="141.30" y2="341.00" stroke="#333" stroke-width="0.80"/>
<polygon points="154.60,327.00 153.62,330.21 151.45,328.14" fill="#111"/>
<text x="198.20" y="327.60" font-size="8.40" font-family="Liberation Sans, sans-serif" font-weight="bold" text-anchor="start" fill="#000" textLength="35.00" lengthAdjust="spacingAndGlyphs" >404.1 eV</text>
<text x="198.20" y="338.30" font-size="8.40" font-family="Liberation Sans, sans-serif" font-weight="bold" text-anchor="start" fill="#000" textLength="23.60" lengthAdjust="spacingAndGlyphs" >2.87%</text>
<line x1="193.30" y1="332.30" x2="174.60" y2="346.40" stroke="#333" stroke-width="0.80"/>
<polygon points="193.30,332.30 191.81,335.30 190.00,332.91" fill="#111"/>
<text x="182.80" y="295.90" font-size="8.80" font-family="Liberation Serif, serif" font-weight="bold" text-anchor="start" fill="#000" textLength="73.10" lengthAdjust="spacingAndGlyphs" >CN/N,Fe-CQDs(2)</text>
<rect x="30.20" y="204.50" width="230.60" height="161.10" fill="none" stroke="#000" stroke-width="1.50"/>
<line x1="318.80" y1="365.20" x2="318.80" y2="368.50" stroke="#000" stroke-width="1.20"/>
<line x1="348.00" y1="365.20" x2="348.00" y2="368.50" stroke="#000" stroke-width="1.20"/>
<line x1="377.20" y1="365.20" x2="377.20" y2="368.50" stroke="#000" stroke-width="1.20"/>
<line x1="406.40" y1="365.20" x2="406.40" y2="368.50" stroke="#000" stroke-width="1.20"/>
<line x1="435.60" y1="365.20" x2="435.60" y2="368.50" stroke="#000" stroke-width="1.20"/>
<line x1="464.80" y1="365.20" x2="464.80" y2="368.50" stroke="#000" stroke-width="1.20"/>
<line x1="494.00" y1="365.20" x2="494.00" y2="368.50" stroke="#000" stroke-width="1.20"/>
<line x1="523.20" y1="365.20" x2="523.20" y2="368.50" stroke="#000" stroke-width="1.20"/>
<line x1="304.20" y1="365.20" x2="304.20" y2="367.40" stroke="#000" stroke-width="1.10"/>
<line x1="333.40" y1="365.20" x2="333.40" y2="367.40" stroke="#000" stroke-width="1.10"/>
<line x1="362.60" y1="365.20" x2="362.60" y2="367.40" stroke="#000" stroke-width="1.10"/>
<line x1="391.80" y1="365.20" x2="391.80" y2="367.40" stroke="#000" stroke-width="1.10"/>
<line x1="421.00" y1="365.20" x2="421.00" y2="367.40" stroke="#000" stroke-width="1.10"/>
<line x1="450.20" y1="365.20" x2="450.20" y2="367.40" stroke="#000" stroke-width="1.10"/>
<line x1="479.40" y1="365.20" x2="479.40" y2="367.40" stroke="#000" stroke-width="1.10"/>
<line x1="508.60" y1="365.20" x2="508.60" y2="367.40" stroke="#000" stroke-width="1.10"/>
<text x="318.80" y="378.10" font-size="9.00" font-family="Liberation Sans, sans-serif" font-weight="bold" text-anchor="middle" fill="#000" textLength="15.30" lengthAdjust="spacingAndGlyphs" >705</text>
<text x="348.00" y="378.10" font-size="9.00" font-family="Liberation Sans, sans-serif" font-weight="bold" text-anchor="middle" fill="#000" textLength="15.30" lengthAdjust="spacingAndGlyphs" >710</text>
<text x="377.20" y="378.10" font-size="9.00" font-family="Liberation Sans, sans-serif" font-weight="bold" text-anchor="middle" fill="#000" textLength="15.30" lengthAdjust="spacingAndGlyphs" >715</text>
<text x="406.40" y="378.10" font-size="9.00" font-family="Liberation Sans, sans-serif" font-weight="bold" text-anchor="middle" fill="#000" textLength="15.30" lengthAdjust="spacingAndGlyphs" >720</text>
<text x="435.60" y="378.10" font-size="9.00" font-family="Liberation Sans, sans-serif" font-weight="bold" text-anchor="middle" fill="#000" textLength="15.30" lengthAdjust="spacingAndGlyphs" >725</text>
<text x="464.80" y="378.10" font-size="9.00" font-family="Liberation Sans, sans-serif" font-weight="bold" text-anchor="middle" fill="#000" textLength="15.30" lengthAdjust="spacingAndGlyphs" >730</text>
<text x="494.00" y="378.10" font-size="9.00" font-family="Liberation Sans, sans-serif" font-weight="bold" text-anchor="middle" fill="#000" textLength="15.30" lengthAdjust="spacingAndGlyphs" >735</text>
<text x="523.20" y="378.10" font-size="9.00" font-family="Liberation Sans, sans-serif" font-weight="bold" text-anchor="middle" fill="#000" textLength="15.30" lengthAdjust="spacingAndGlyphs" >740</text>
<text x="263.80" y="222.90" font-size="22.00" font-family="Liberation Sans, sans-serif" font-weight="bold" text-anchor="start" fill="#000" textLength="28.40" lengthAdjust="spacingAndGlyphs" >(d)</text>
<text x="0" y="0" font-size="11.60" font-family="Liberation Sans, sans-serif" font-weight="bold" text-anchor="middle" textLength="85.40" lengthAdjust="spacingAndGlyphs" transform="translate(285.00,280.20) rotate(-90)">Intensity (a.u.)</text>
<text x="366.20" y="391.00" font-size="11.60" font-family="Liberation Sans, sans-serif" font-weight="bold" text-anchor="start" fill="#000" textLength="115.30" lengthAdjust="spacingAndGlyphs" >Binding energy (eV)</text>
<text x="297.00" y="217.90" font-size="8.20" font-family="Liberation Sans, sans-serif" font-weight="bold" text-anchor="start" fill="#000" textLength="21.60" lengthAdjust="spacingAndGlyphs" >Fe 2p</text>
<polyline points="295.6,276.5 296.2,275.8 296.8,276.4 297.4,275.4 298.0,275.4 298.6,275.9 299.2,275.6 299.8,275.6 300.4,276.3 301.0,275.3 301.6,275.3 302.2,275.3 302.8,275.8 303.4,275.3 304.0,274.9 304.6,275.6 305.2,275.3 305.8,275.1 306.4,275.4 307.0,275.6 307.6,275.4 308.2,275.5 308.8,275.3 309.4,275.6 310.0,275.8 310.6,274.9 311.2,274.9 311.8,275.5 312.4,274.8 313.0,275.2 313.6,275.1 314.2,275.0 314.8,275.3 315.4,275.1 316.0,274.2 316.6,274.7 317.2,274.5 317.8,274.6 318.4,274.3 319.0,274.1 319.6,274.6 320.2,274.3 320.8,273.9 321.4,273.8 322.0,273.9 322.6,273.6 323.2,274.0 323.8,273.5 324.4,273.3 325.0,273.3 325.6,273.2 326.2,273.8 326.8,272.9 327.4,273.2 328.0,273.5 328.6,273.0 329.2,272.5 329.8,273.2 330.4,273.0 331.0,271.9 331.6,272.0 332.2,272.2 332.8,272.4 333.4,270.0 334.0,269.8 334.6,268.8 335.2,269.1 335.8,267.6 336.4,267.1 337.0,267.7 337.6,267.4 338.2,265.7 338.8,263.9 339.4,262.3 340.0,261.9 340.6,260.5 341.2,259.8 341.8,258.4 342.4,255.0 343.0,254.1 343.6,253.2 344.2,250.5 344.8,247.5 345.4,243.7 346.0,241.9 346.6,239.5 347.2,236.3 347.8,230.4 348.4,228.8 349.0,223.9 349.6,220.2 350.2,218.0 350.8,218.1 351.4,217.5 352.0,216.0 352.5,218.7 353.1,217.1 353.7,217.7 354.3,219.1 354.9,221.0 355.5,222.1 356.1,220.0 356.7,220.7 357.3,220.0 357.9,221.3 358.5,221.1 359.1,220.7 359.7,220.6 360.3,222.5 360.9,223.2 361.5,222.3 362.1,223.2 362.7,224.6 363.3,225.9 363.9,227.3 364.5,226.6 365.1,228.2 365.7,228.6 366.3,230.2 366.9,229.6 367.5,230.8 368.1,231.8 368.7,235.1 369.3,234.4 369.9,236.2 370.5,236.3 371.1,237.5 371.7,237.3 372.3,239.4 372.9,238.9 373.5,240.8 374.1,240.5 374.7,241.0 375.3,242.3 375.9,242.4 376.5,242.3 377.1,243.0 377.7,243.2 378.3,245.6 378.9,244.3 379.5,243.9 380.1,244.4 380.7,245.4 381.3,246.7 381.9,244.7 382.5,246.5 383.1,245.5 383.7,245.4 384.3,246.5 384.9,245.4 385.5,244.6 386.1,245.9 386.7,246.3 387.3,246.2 387.9,245.1 388.5,246.6 389.1,246.2 389.7,246.3 390.3,244.6 390.9,245.4 391.5,244.9 392.1,243.2 392.7,242.6 393.3,242.7 393.9,242.3 394.5,241.9 395.1,242.3 395.7,243.0 396.3,241.5 396.9,241.7 397.5,240.1 398.1,240.3 398.7,241.9 399.3,239.1 399.9,240.7 400.5,241.6 401.1,241.7 401.7,241.8 402.3,241.1 402.9,242.3 403.5,242.6 404.1,242.6 404.7,243.3 405.3,241.0 405.9,243.2 406.5,241.8 407.1,242.7 407.7,241.5 408.3,243.2 408.9,241.0 409.5,242.4 410.1,241.5 410.7,242.0 411.3,241.8 411.9,242.3 412.5,242.3 413.1,240.8 413.7,241.2 414.3,240.1 414.9,239.6 415.5,240.8 416.1,239.0 416.7,238.0 417.3,238.3 417.9,239.0 418.5,237.3 419.1,238.4 419.7,237.3 420.3,236.6 420.9,234.2 421.5,232.9 422.1,232.0 422.7,231.4 423.3,230.6 423.9,228.4 424.5,228.9 425.1,227.8 425.7,226.8 426.3,226.5 426.9,226.8 427.5,224.1 428.1,224.0 428.7,221.9 429.3,222.8 429.9,220.8 430.5,222.8 431.1,221.1 431.7,222.2 432.3,220.0 432.9,220.5 433.5,221.2 434.1,219.8 434.7,219.9 435.3,220.9 435.9,221.6 436.5,220.0 437.1,219.7 437.7,220.2 438.3,221.9 438.9,219.8 439.5,221.2 440.1,220.8 440.7,221.8 441.3,220.9 441.9,222.3 442.5,223.3 443.1,223.5 443.7,223.2 444.3,223.2 444.9,223.9 445.5,224.2 446.1,226.5 446.7,226.6 447.3,226.5 447.9,227.5 448.5,227.3 449.1,227.6 449.7,227.5 450.3,228.7 450.9,228.9 451.5,229.0 452.1,228.0 452.7,229.8 453.3,229.5 453.9,230.0 454.5,230.1 455.1,231.1 455.7,229.2 456.3,230.1 456.9,231.6 457.5,231.1 458.1,230.1 458.7,231.2 459.3,231.9 459.9,230.4 460.5,231.7 461.1,229.8 461.7,232.1 462.3,230.8 462.9,230.2 463.5,231.8 464.1,231.3 464.7,232.1 465.3,231.5 465.9,230.6 466.4,229.4 467.0,231.2 467.6,231.4 468.2,230.7 468.8,229.7 469.4,234.1 470.0,231.4 470.6,229.9 471.2,231.6 471.8,230.7 472.4,234.0 473.0,232.0 473.6,231.6 474.2,232.2 474.8,231.6 475.4,236.2 476.0,229.8 476.6,231.6 477.2,229.7 477.8,232.9 478.4,230.1 479.0,230.0 479.6,233.0 480.2,231.1 480.8,233.9 481.4,230.9 482.0,229.7 482.6,231.1 483.2,230.2 483.8,233.7 484.4,230.4 485.0,230.3 485.6,230.6 486.2,230.1 486.8,229.8 487.4,230.0 488.0,230.0 488.6,231.1 489.2,231.8 489.8,231.3 490.4,233.2 491.0,230.0 491.6,231.9 492.2,231.1 492.8,229.9 493.4,229.6 494.0,229.9 494.6,230.1 495.2,231.6 495.8,234.9 496.4,229.4 497.0,230.2 497.6,231.1 498.2,231.7 498.8,229.2 499.4,230.5 500.0,230.5 500.6,231.1 501.2,231.9 501.8,232.0 502.4,231.5 503.0,231.1 503.6,229.4 504.2,230.3 504.8,229.8 505.4,229.8 506.0,229.6 506.6,233.3 507.2,231.0 507.8,231.3 508.4,231.5 509.0,234.3 509.6,229.2 510.2,231.8 510.8,229.2 511.4,230.7 512.0,229.5 512.6,230.0 513.2,229.5 513.8,232.6 514.4,230.0 515.0,229.9 515.6,229.3 516.2,230.4 516.8,230.5 517.4,229.5 518.0,229.6 518.6,230.6 519.2,230.9 519.8,231.9 520.4,233.2 521.0,231.2 521.6,229.6 522.2,231.7 522.8,231.9" fill="none" stroke="#f01010" stroke-width="1.60" stroke-linejoin="round" stroke-linecap="round" />
<polyline points="296.0,274.4 298.7,274.2 302.6,273.9 307.1,273.6 311.8,273.2 316.2,272.8 320.0,272.5 323.1,272.2 326.0,271.9 328.6,271.7 331.0,271.4 333.1,271.0 335.0,270.5 336.5,270.0 337.7,269.4 338.6,268.8 339.4,268.1 340.1,267.2 340.8,266.0 341.5,264.6 342.1,263.1 342.6,261.4 343.0,259.5 343.5,257.4 344.0,255.0 344.5,252.2 345.0,248.9 345.5,245.4 346.0,241.9 346.5,238.7 347.0,236.0 347.6,233.8 348.2,231.8 348.8,230.1 349.4,228.8 350.0,227.8 350.5,227.3 351.0,227.3 351.4,227.8 351.8,228.7 352.3,229.9 352.7,231.2 353.1,232.6 353.5,234.1 354.0,235.9 354.4,237.8 354.8,239.8 355.3,241.6 355.8,243.2 356.3,244.5 356.9,245.7 357.5,246.8 358.1,247.8 358.7,248.6 359.3,249.3 359.8,249.9 360.3,250.3 360.8,250.6 361.3,250.9 362.0,251.0 362.8,251.1 363.8,251.1 364.9,251.0 366.1,250.8 367.4,250.6 369.0,250.4 370.7,250.2 372.7,250.1 375.0,249.9 377.4,249.8 379.9,249.6 382.5,249.5 385.0,249.3 387.5,249.1 390.1,248.8 392.8,248.6 395.3,248.3 397.8,248.0 400.0,247.8 401.9,247.6 403.5,247.5 405.0,247.4 406.5,247.2 408.1,247.0 410.0,246.6 412.2,246.1 414.6,245.5 417.2,244.8 419.8,244.0 422.4,243.2 425.0,242.5 427.6,241.8 430.2,241.0 432.8,240.2 435.4,239.4 437.8,238.6 440.0,238.0 442.0,237.5 443.7,237.0 445.3,236.6 446.9,236.2 448.4,235.9 450.0,235.5 451.7,235.1 453.3,234.8 455.0,234.4 456.7,234.1 458.3,233.8 460.0,233.5 461.6,233.2 463.0,233.0 464.4,232.7 465.9,232.5 467.8,232.2 470.0,232.0 472.6,231.8 475.5,231.5 478.6,231.3 482.0,231.0 485.8,230.8 490.0,230.6 495.1,230.4 501.1,230.2 507.5,230.0 513.6,229.8 518.8,229.6 522.5,229.5" fill="none" stroke="#1428e0" stroke-width="1.60" stroke-linejoin="round" stroke-linecap="round" />
<polyline points="296.0,274.6 300.7,274.5 307.4,274.4 315.3,274.2 323.2,274.0 330.3,273.7 335.6,273.4 338.8,273.0 340.7,272.6 341.8,272.2 342.4,271.6 343.0,271.1 344.0,270.5 345.3,269.9 346.5,269.2 347.7,268.5 348.9,267.7 350.1,266.9 351.4,266.0 352.8,265.0 354.2,263.8 355.7,262.6 357.2,261.3 358.7,260.1 360.2,259.0 361.7,258.0 363.1,257.0 364.6,256.1 366.1,255.2 367.5,254.4 369.0,253.7 370.5,253.1 372.0,252.6 373.5,252.2 375.0,251.8 376.4,251.5 377.8,251.1 379.0,250.8 380.0,250.5 381.0,250.3 382.1,250.1 383.4,249.8 385.0,249.3 387.1,248.7 389.5,247.9 392.2,247.0 394.9,246.2 397.6,245.4 400.0,244.7 402.2,244.2 404.4,243.8 406.4,243.5 408.4,243.2 410.3,242.9 412.0,242.5 413.6,242.1 415.1,241.6 416.4,241.2 417.7,240.7 418.9,240.1 420.0,239.5 421.0,238.8 422.0,238.0 422.8,237.1 423.6,236.2 424.3,235.3 425.0,234.5 425.6,233.7 426.2,232.9 426.6,232.1 427.1,231.3 427.5,230.6 428.0,230.0 428.5,229.5 428.9,229.0 429.4,228.5 429.8,228.2 430.3,227.9 430.8,227.8 431.3,227.8 431.8,227.9 432.3,228.1 432.9,228.3 433.4,228.7 434.0,229.0 434.6,229.4 435.3,229.9 435.9,230.4 436.6,231.0 437.3,231.5 438.0,232.0 438.7,232.4 439.3,232.8 439.9,233.2 440.6,233.5 441.3,233.8 442.0,234.0 442.7,234.1 443.5,234.2 444.2,234.2 445.1,234.1 446.0,234.1 447.0,234.0 448.1,233.9 449.2,233.7 450.4,233.5 451.7,233.3 453.2,233.2 455.0,233.0 457.0,232.9 459.3,232.8 461.8,232.7 464.4,232.6 467.1,232.4 470.0,232.3 472.9,232.1 475.8,231.9 478.9,231.7 482.2,231.5 485.9,231.2 490.0,231.0 495.1,230.8 501.1,230.5 507.5,230.2 513.6,230.0 518.8,229.8 522.5,229.6" fill="none" stroke="#e6e21a" stroke-width="1.60" stroke-linejoin="round" stroke-linecap="round" />
<polyline points="338.0,271.0 338.7,270.5 339.7,269.9 340.8,269.1 342.0,268.2 343.2,267.2 344.3,266.0 345.3,264.7 346.3,263.2 347.2,261.6 348.2,259.9 349.1,258.0 350.0,256.0 350.9,253.8 351.8,251.2 352.6,248.6 353.4,245.9 354.2,243.5 354.9,241.4 355.5,239.7 356.1,238.1 356.6,236.8 357.0,235.6 357.5,234.5 358.0,233.5 358.5,232.5 359.0,231.7 359.5,230.9 360.0,230.2 360.5,229.8 361.0,229.5 361.5,229.5 362.0,229.6 362.5,230.0 363.0,230.4 363.5,230.9 364.0,231.5 364.5,232.1 365.0,232.8 365.5,233.5 366.0,234.4 366.5,235.2 367.2,236.1 368.0,237.1 368.8,238.2 369.7,239.3 370.7,240.4 371.6,241.5 372.5,242.3 373.4,243.0 374.2,243.5 375.0,243.9 375.9,244.3 376.8,244.6 377.8,245.0 378.9,245.3 380.0,245.7 381.1,245.9 382.3,246.2 383.6,246.5 385.0,246.7 386.6,247.0 388.5,247.2 390.4,247.5 392.3,247.7 393.9,247.9 395.0,248.0" fill="none" stroke="#10d8e8" stroke-width="1.60" stroke-linejoin="round" stroke-linecap="round" />
<polyline points="412.0,244.5 412.5,244.5 413.2,244.5 414.0,244.5 414.9,244.4 415.9,244.3 417.0,244.0 418.2,243.6 419.5,243.1 420.9,242.5 422.3,241.8 423.7,240.9 425.0,240.0 426.3,238.9 427.5,237.5 428.8,236.1 429.9,234.6 431.0,233.2 432.0,232.0 432.8,230.9 433.6,229.8 434.2,228.9 434.8,228.0 435.4,227.2 436.0,226.5 436.6,225.9 437.2,225.5 437.7,225.1 438.3,224.9 438.8,224.7 439.4,224.6 440.0,224.6 440.6,224.7 441.2,225.0 441.8,225.3 442.4,225.6 443.0,226.0 443.6,226.5 444.3,227.0 444.9,227.7 445.6,228.3 446.3,228.9 447.0,229.5 447.7,230.1 448.5,230.6 449.2,231.2 450.1,231.7 451.0,232.1 452.0,232.5 453.1,232.8 454.4,233.0 455.7,233.1 457.1,233.1 458.5,233.2 460.0,233.2 461.7,233.2 463.6,233.1 465.5,232.9 467.3,232.8 468.9,232.7 470.0,232.6" fill="none" stroke="#e01ee0" stroke-width="1.60" stroke-linejoin="round" stroke-linecap="round" />
<polyline points="388.0,247.0 388.5,246.9 389.3,246.7 390.1,246.5 391.1,246.3 392.1,246.0 393.0,245.5 394.0,244.8 395.0,243.9 396.0,242.9 397.0,241.9 398.0,241.2 399.0,240.8 399.9,240.9 400.7,241.3 401.6,242.0 402.4,242.8 403.2,243.5 404.0,244.0 404.9,244.4 405.9,244.7 406.8,244.9 407.7,245.2 408.5,245.4 409.0,245.5" fill="none" stroke="#a89a30" stroke-width="1.30" stroke-linejoin="round" stroke-linecap="round" />
<polyline points="296.0,274.4 297.5,274.3 299.6,274.2 302.1,274.1 304.7,273.9 307.4,273.8 310.0,273.6 312.5,273.4 315.2,273.2 317.9,273.0 320.5,272.7 322.9,272.5 325.0,272.2 326.8,272.0 328.3,271.7 329.6,271.5 330.8,271.2 331.9,270.9 333.0,270.4 334.1,269.8 335.0,269.2 335.9,268.5 336.7,267.7 337.5,266.9 338.2,266.0 338.9,265.0 339.5,264.0 340.0,262.9 340.5,261.8 341.0,260.7 341.5,259.5 342.0,258.4 342.5,257.4 342.9,256.4 343.4,255.3 343.8,253.8 344.3,252.0 344.8,249.6 345.4,246.8 345.9,243.7 346.5,240.4 347.0,237.3 347.5,234.4 347.9,231.6 348.3,228.8 348.6,226.1 349.0,223.5 349.3,221.3 349.6,219.5 349.9,218.2 350.2,217.2 350.4,216.6 350.6,216.2 350.9,216.1 351.2,216.0 351.5,216.2 351.9,216.6 352.2,217.3 352.6,218.0 352.9,218.7 353.3,219.3 353.6,219.8 354.0,220.3 354.3,220.7 354.6,221.1 355.0,221.5 355.3,221.8 355.7,222.0 356.0,222.1 356.4,222.2 356.8,222.3 357.1,222.3 357.5,222.3 357.9,222.3 358.2,222.2 358.5,222.0 358.9,221.9 359.2,221.9 359.6,222.0 360.0,222.2 360.3,222.4 360.7,222.8 361.0,223.2 361.5,223.7 362.0,224.3 362.6,225.1 363.3,226.0 364.0,226.9 364.8,228.0 365.6,229.1 366.3,230.3 367.0,231.5 367.7,232.9 368.4,234.3 369.0,235.8 369.7,237.1 370.5,238.3 371.3,239.4 372.1,240.4 373.0,241.3 373.9,242.2 374.7,243.0 375.6,243.6 376.4,244.1 377.2,244.5 378.1,244.8 378.9,245.0 379.8,245.2 380.7,245.4 381.7,245.6 382.8,245.8 383.9,245.9 385.1,246.0 386.3,246.0 387.4,245.9 388.5,245.6 389.7,245.2 390.9,244.8 392.1,244.2 393.2,243.7 394.2,243.2 395.1,242.7 396.0,242.1 396.9,241.5 397.7,241.0 398.5,240.6 399.3,240.4 400.1,240.4 400.9,240.7 401.7,241.0 402.5,241.4 403.4,241.8 404.3,242.0 405.3,242.2 406.4,242.4 407.5,242.5 408.6,242.6 409.9,242.6 411.1,242.3 412.5,241.8 413.9,241.2 415.4,240.4 416.9,239.5 418.3,238.5 419.5,237.5 420.5,236.3 421.3,235.0 422.0,233.6 422.6,232.1 423.3,230.8 424.0,229.5 424.8,228.3 425.5,227.2 426.3,226.1 427.1,225.1 427.8,224.2 428.5,223.5 429.1,223.0 429.7,222.6 430.3,222.3 430.8,222.1 431.4,222.0 432.0,221.8 432.6,221.6 433.3,221.5 434.0,221.5 434.7,221.4 435.4,221.4 436.0,221.4 436.6,221.4 437.1,221.4 437.7,221.4 438.2,221.5 438.8,221.6 439.4,221.8 440.1,222.0 440.8,222.3 441.6,222.7 442.4,223.1 443.2,223.5 444.0,224.0 444.8,224.6 445.6,225.2 446.4,225.9 447.2,226.6 448.0,227.3 448.8,227.8 449.5,228.2 450.2,228.6 450.9,228.9 451.5,229.1 452.2,229.4 453.0,229.6 453.8,229.8 454.6,230.0 455.4,230.2 456.3,230.3 457.2,230.5 458.2,230.6 459.3,230.7 460.6,230.8 461.9,230.9 463.2,230.9 464.2,231.0 465.0,231.0" fill="none" stroke="#000" stroke-width="1.60" stroke-linejoin="round" stroke-linecap="round" />
<polyline points="295.8,344.0 296.9,341.8 298.0,341.3 299.1,344.1 300.2,342.9 301.3,345.6 302.4,347.1 303.5,340.7 304.6,335.4 305.7,343.5 306.8,352.5 307.9,334.7 309.0,337.3 310.1,340.4 311.2,347.2 312.3,339.9 313.4,340.2 314.5,351.0 315.6,342.6 316.7,347.8 317.8,337.4 318.9,345.3 320.0,339.3 321.1,347.0 322.2,341.1 323.3,343.2 324.5,343.6 325.6,341.1 326.7,336.2 327.8,341.5 328.9,339.6 330.0,344.8 331.1,346.7 332.2,345.5 333.3,340.2 334.4,348.0 335.5,343.6 336.6,349.0 337.7,338.4 338.8,338.0 339.9,325.7 341.0,340.4 342.1,335.9 343.2,325.1 344.3,325.2 345.4,314.8 346.5,309.3 347.6,309.9 348.7,311.5 349.8,322.5 350.9,314.4 352.0,317.9 353.1,315.7 354.2,322.5 355.3,322.2 356.4,319.7 357.5,323.3 358.6,320.6 359.7,315.7 360.8,324.5 361.9,304.3 363.0,316.5 364.1,306.7 365.2,310.9 366.3,306.4 367.4,304.2 368.5,314.8 369.6,303.3 370.7,301.8 371.8,307.6 372.9,307.1 374.0,295.0 375.1,302.4 376.2,302.4 377.3,304.5 378.4,303.8 379.5,301.8 380.6,303.1 381.8,316.1 382.9,307.8 384.0,324.8 385.1,316.1 386.2,316.2 387.3,310.3 388.4,326.8 389.5,319.7 390.6,313.7 391.7,325.4 392.8,333.4 393.9,320.2 395.0,329.0 396.1,324.6 397.2,311.9 398.3,322.7 399.4,315.0 400.5,322.8 401.6,317.4 402.7,321.8 403.8,318.1 404.9,330.3 406.0,325.1 407.1,323.3 408.2,325.4 409.3,314.1 410.4,317.5 411.5,318.4 412.6,321.6 413.7,320.5 414.8,323.0 415.9,313.9 417.0,318.1 418.1,312.5 419.2,307.8 420.3,316.2 421.4,313.8 422.5,309.6 423.6,315.5 424.7,307.5 425.8,317.3 426.9,313.2 428.0,306.7 429.1,317.9 430.2,318.2 431.3,310.4 432.4,311.4 433.5,308.8 434.6,314.3 435.7,311.7 436.8,313.1 438.0,309.4 439.1,308.7 440.2,309.1 441.3,308.1 442.4,311.4 443.5,303.8 444.6,312.6 445.7,301.0 446.8,304.6 447.9,295.8 449.0,299.8 450.1,299.5 451.2,308.8 452.3,292.7 453.4,305.8 454.5,300.6 455.6,312.0 456.7,306.0 457.8,310.3 458.9,306.1 460.0,300.7 461.1,308.0 462.2,310.5 463.3,311.2 464.4,304.7 465.5,312.1 466.6,307.6 467.7,307.9 468.8,308.1 469.9,323.6 471.0,310.3 472.1,306.1 473.2,313.2 474.3,312.4 475.4,319.8 476.5,314.5 477.6,313.3 478.7,311.2 479.8,309.1 480.9,307.8 482.0,303.3 483.1,305.0 484.2,307.8 485.3,316.4 486.4,319.2 487.5,309.4 488.6,298.9 489.7,315.5 490.8,313.1 491.9,308.4 493.0,311.0 494.1,300.4 495.3,305.7 496.4,313.5 497.5,313.0 498.6,297.1 499.7,301.1 500.8,313.5 501.9,302.6 503.0,297.7 504.1,315.6 505.2,304.9 506.3,301.4 507.4,310.7 508.5,298.7 509.6,304.7 510.7,308.9 511.8,311.2 512.9,305.4 514.0,304.3 515.1,308.6 516.2,304.1 517.3,306.7 518.4,299.6 519.5,304.0 520.6,302.5 521.7,307.4 522.8,292.6" fill="none" stroke="#f01010" stroke-width="1.50" stroke-linejoin="round" stroke-linecap="round" />
<polyline points="295.5,342.6 300.0,342.5 306.4,342.5 313.8,342.4 321.6,342.2 328.9,342.1 335.0,342.0 339.7,341.9 343.8,341.8 347.4,341.8 350.7,341.6 354.0,341.5 357.6,341.2 361.5,340.9 365.4,340.4 369.4,340.0 373.2,339.4 376.9,338.8 380.2,338.2 383.1,337.5 385.7,336.7 388.1,335.8 390.3,334.9 392.6,334.1 395.0,333.2 397.4,332.4 399.8,331.6 402.2,330.9 404.6,330.1 407.2,329.2 410.0,328.3 412.9,327.3 415.9,326.3 419.1,325.2 422.4,324.0 426.0,322.8 430.0,321.5 434.4,320.1 439.3,318.5 444.4,316.9 449.6,315.3 454.9,313.8 460.0,312.4 465.0,311.2 469.9,310.0 474.8,308.9 479.8,307.9 484.8,306.9 490.0,306.0 495.7,305.0 501.9,304.1 508.3,303.1 514.2,302.3 519.2,301.6 522.8,301.1" fill="none" stroke="#a0a020" stroke-width="1.60" stroke-linejoin="round" stroke-linecap="round" />
<polyline points="405.0,330.0 406.1,329.6 407.6,329.0 409.4,328.2 411.3,327.5 413.2,326.7 415.0,326.0 416.7,325.3 418.4,324.7 420.1,324.0 421.8,323.4 423.5,322.7 425.0,322.0 426.4,321.3 427.8,320.5 429.1,319.8 430.4,319.0 431.6,318.2 432.7,317.4 433.7,316.6 434.6,315.8 435.4,315.0 436.2,314.1 437.1,313.3 438.0,312.5 439.1,311.7 440.3,310.8 441.5,309.9 442.7,309.1 443.8,308.3 444.7,307.6 445.4,307.0 446.0,306.4 446.5,305.8 447.0,305.3 447.5,304.9 448.0,304.5 448.6,304.2 449.2,303.9 449.7,303.7 450.3,303.5 450.9,303.4 451.5,303.4 452.1,303.4 452.6,303.5 453.2,303.7 453.7,303.9 454.3,304.2 455.0,304.5 455.7,304.9 456.5,305.4 457.3,306.0 458.1,306.6 459.0,307.1 459.8,307.6 460.6,308.0 461.4,308.3 462.3,308.6 463.1,308.9 464.0,309.1 465.0,309.3 466.1,309.4 467.5,309.5 468.8,309.5 470.1,309.5 471.2,309.5 472.0,309.5" fill="none" stroke="#e01ee0" stroke-width="1.60" stroke-linejoin="round" stroke-linecap="round" />
<polyline points="398.0,331.5 398.7,330.8 399.6,329.7 400.8,328.4 401.9,327.1 403.0,325.9 404.0,324.9 404.8,324.1 405.4,323.4 406.1,322.8 406.7,322.2 407.3,321.6 408.0,321.0 408.8,320.4 409.6,319.8 410.5,319.2 411.4,318.6 412.2,318.0 413.1,317.4 413.9,316.7 414.7,315.9 415.5,315.1 416.3,314.3 417.1,313.6 418.0,313.0 418.9,312.5 419.9,312.1 420.8,311.8 421.8,311.6 422.7,311.5 423.6,311.4 424.4,311.5 425.1,311.6 425.9,311.9 426.6,312.2 427.3,312.5 428.0,312.8 428.7,313.1 429.4,313.3 430.2,313.6 430.9,313.9 431.8,314.1 432.7,314.4 433.8,314.7 434.9,315.1 436.1,315.4 437.4,315.7 438.8,315.9 440.2,315.9 441.7,315.7 443.3,315.4 444.9,314.9 446.6,314.4 448.3,313.9 450.0,313.5 451.7,313.1 453.3,312.7 455.0,312.4 456.7,312.0 458.3,311.7 460.0,311.3 461.7,310.9 463.5,310.5 465.2,310.2 467.0,309.8 468.6,309.5 470.0,309.2 471.3,309.0 472.5,308.8 473.6,308.7 474.6,308.6 475.4,308.6 476.0,308.5" fill="none" stroke="#e6e21a" stroke-width="1.60" stroke-linejoin="round" stroke-linecap="round" />
<polyline points="392.0,333.5 392.4,333.3 393.0,333.1 393.7,332.8 394.5,332.4 395.3,331.9 396.0,331.0 396.7,329.6 397.4,327.8 398.2,325.7 398.9,323.7 399.6,322.2 400.3,321.5 400.9,321.7 401.6,322.7 402.2,324.1 402.8,325.6 403.4,327.0 404.0,328.0 404.7,328.6 405.5,328.9 406.2,329.2 407.0,329.3 407.6,329.4 408.0,329.5" fill="none" stroke="#9aa030" stroke-width="1.30" stroke-linejoin="round" stroke-linecap="round" />
<polyline points="336.0,340.5 336.4,340.1 337.1,339.6 337.8,338.9 338.6,338.1 339.3,337.2 340.0,336.0 340.6,334.5 341.1,332.8 341.6,330.8 342.1,328.8 342.5,326.9 343.0,325.0 343.5,323.2 343.9,321.3 344.3,319.5 344.8,317.8 345.1,316.3 345.5,315.0 345.8,314.0 346.1,313.2 346.3,312.7 346.5,312.3 346.7,312.0 347.0,311.8 347.3,311.8 347.6,311.9 347.9,312.1 348.3,312.5 348.6,312.9 349.0,313.5 349.4,314.2 349.8,315.1 350.2,316.2 350.7,317.2 351.1,318.2 351.5,319.0 351.9,319.7 352.2,320.3 352.5,320.9 352.8,321.4 353.1,321.7 353.5,322.0 353.9,322.2 354.2,322.3 354.6,322.3 355.0,322.2 355.5,321.9 356.0,321.5 356.6,320.9 357.2,320.1 357.8,319.2 358.5,318.2 359.3,317.1 360.0,316.0 360.8,314.8 361.7,313.4 362.6,312.0 363.4,310.5 364.3,309.2 365.1,308.1 365.8,307.2 366.5,306.4 367.1,305.6 367.7,305.0 368.3,304.5 369.0,304.0 369.7,303.6 370.5,303.2 371.2,303.0 372.0,302.8 372.7,302.7 373.4,302.6 374.1,302.6 374.7,302.6 375.3,302.8 375.9,303.0 376.4,303.2 377.0,303.5 377.5,303.8 378.0,304.2 378.4,304.5 378.9,305.0 379.5,305.7 380.2,306.6 381.0,307.8 382.0,309.3 383.0,310.9 384.1,312.6 385.2,314.2 386.2,315.6 387.2,316.9 388.3,318.1 389.3,319.3 390.4,320.3 391.3,321.1 392.2,321.6 393.0,321.8 393.6,321.6 394.2,321.3 394.8,320.8 395.4,320.4 396.0,320.0 396.7,319.7 397.5,319.3 398.2,318.9 399.0,318.5 399.7,318.3 400.3,318.2 400.8,318.3 401.3,318.7 401.8,319.1 402.2,319.6 402.6,320.1 403.0,320.5 403.4,320.9 403.8,321.4 404.2,321.8 404.6,322.2 405.0,322.5 405.5,322.6 406.0,322.5 406.6,322.2 407.2,321.9 407.8,321.4 408.4,321.0 409.0,320.5 409.6,320.1 410.3,319.6 410.9,319.1 411.6,318.6 412.3,318.0 413.1,317.4 414.0,316.7 415.0,315.9 416.1,315.1 417.1,314.3 418.2,313.5 419.1,312.9 419.9,312.4 420.7,311.9 421.4,311.5 422.0,311.2 422.8,311.0 423.6,310.9 424.5,310.9 425.5,311.1 426.5,311.3 427.5,311.6 428.6,311.8 429.6,312.1 430.6,312.4 431.7,312.7 432.8,313.1 433.8,313.4 434.8,313.6 435.7,313.6 436.5,313.3 437.3,312.9 438.0,312.3 438.7,311.7 439.4,311.1 440.0,310.5 440.6,310.0 441.1,309.5 441.6,309.1 442.1,308.6 442.6,308.1 443.2,307.6 443.8,307.1 444.4,306.5 445.0,306.0 445.7,305.4 446.3,304.9 447.0,304.5 447.7,304.1 448.5,303.7 449.3,303.4 450.0,303.1 450.8,302.9 451.5,302.8 452.1,302.8 452.7,303.0 453.3,303.2 453.9,303.4 454.4,303.7 455.0,304.0 455.6,304.3 456.1,304.6 456.6,305.0 457.2,305.4 457.7,305.8 458.3,306.1 458.9,306.4 459.5,306.8 460.1,307.1 460.7,307.4 461.4,307.7 462.0,308.0 462.7,308.2 463.4,308.5 464.1,308.7 464.8,308.8 465.4,309.0 465.8,309.1" fill="none" stroke="#000" stroke-width="1.60" stroke-linejoin="round" stroke-linecap="round" />
<polyline points="330.0,342.0 330.5,341.8 331.2,341.6 332.1,341.4 333.0,341.1 334.0,340.8 335.0,340.5 336.0,340.2 337.1,339.8 338.3,339.4 339.5,339.0 340.8,338.5 342.0,338.0 343.3,337.5 344.6,337.0 346.0,336.4 347.3,335.8 348.7,334.9 350.0,333.7 351.3,332.2 352.6,330.3 353.8,328.2 355.1,326.0 356.3,323.8 357.6,321.6 358.9,319.3 360.2,316.8 361.6,314.3 362.9,311.9 364.1,309.8 365.1,308.1 366.0,306.9 366.6,306.0 367.2,305.4 367.8,305.0 368.4,304.6 369.0,304.2 369.7,303.8 370.5,303.5 371.2,303.2 372.0,303.0 372.7,302.9 373.4,302.8 374.1,302.8 374.7,302.8 375.3,302.9 375.9,303.1 376.4,303.3 377.0,303.6 377.5,303.9 378.0,304.2 378.4,304.6 378.9,305.1 379.5,305.7 380.2,306.6 381.0,307.8 382.0,309.3 383.0,310.9 384.1,312.6 385.2,314.2 386.2,315.6 387.2,316.8 388.2,317.9 389.2,318.9 390.2,319.8 391.2,320.7 392.2,321.6 393.2,322.5 394.3,323.3 395.3,324.1 396.4,324.8 397.4,325.5 398.3,326.1 399.1,326.6 399.9,327.1 400.7,327.5 401.4,327.8 402.1,328.1 402.8,328.4 403.6,328.6 404.4,328.8 405.2,328.9 405.9,329.0 406.5,329.1 407.0,329.2" fill="none" stroke="#10d8e8" stroke-width="1.60" stroke-linejoin="round" stroke-linecap="round" />
<polyline points="333.0,341.9 333.4,341.8 333.9,341.7 334.6,341.5 335.2,341.3 335.9,341.0 336.5,340.5 337.0,339.9 337.5,339.1 338.0,338.2 338.5,337.2 339.0,336.2 339.5,335.0 340.0,333.7 340.5,332.2 341.0,330.6 341.5,329.0 342.0,327.5 342.5,326.1 343.0,324.9 343.4,323.7 343.8,322.6 344.2,321.6 344.6,320.8 345.0,320.0 345.4,319.4 345.7,318.8 346.0,318.4 346.4,318.1 346.7,318.0 347.0,317.9 347.3,318.0 347.7,318.1 348.0,318.4 348.3,318.8 348.7,319.4 349.0,320.0 349.3,320.8 349.6,321.7 349.9,322.8 350.2,323.9 350.5,325.0 350.8,326.1 351.1,327.2 351.5,328.3 351.8,329.5 352.2,330.6 352.6,331.8 353.0,333.0 353.5,334.3 354.0,335.7 354.5,337.1 355.0,338.5 355.6,339.6 356.1,340.5 356.6,341.0 357.2,341.3 357.7,341.3 358.3,341.3 358.7,341.2 359.0,341.2" fill="none" stroke="#1428e0" stroke-width="1.60" stroke-linejoin="round" stroke-linecap="round" />
<text x="306.00" y="230.40" font-size="8.40" font-family="Liberation Sans, sans-serif" font-weight="bold" text-anchor="start" fill="#000" textLength="35.50" lengthAdjust="spacingAndGlyphs" >710.4 eV</text>
<line x1="342.50" y1="227.40" x2="348.00" y2="227.40" stroke="#000" stroke-width="1.00"/>
<text x="361.00" y="221.70" font-size="8.40" font-family="Liberation Sans, sans-serif" font-weight="bold" text-anchor="start" fill="#000" textLength="35.00" lengthAdjust="spacingAndGlyphs" >712.2 eV</text>
<line x1="367.00" y1="224.20" x2="363.50" y2="228.00" stroke="#333" stroke-width="0.80"/>
<polygon points="367.00,224.20 366.07,227.42 363.86,225.39" fill="#111"/>
<text x="380.40" y="235.80" font-size="8.40" font-family="Liberation Sans, sans-serif" font-weight="bold" text-anchor="start" fill="#000" textLength="34.80" lengthAdjust="spacingAndGlyphs" >718.8 eV</text>
<line x1="396.40" y1="237.00" x2="398.60" y2="240.20" stroke="#333" stroke-width="0.80"/>
<polygon points="396.40,237.00 399.34,238.62 396.86,240.32" fill="#111"/>
<text x="398.60" y="214.30" font-size="8.40" font-family="Liberation Sans, sans-serif" font-weight="bold" text-anchor="start" fill="#000" textLength="34.50" lengthAdjust="spacingAndGlyphs" >723.8 eV</text>
<line x1="422.00" y1="216.00" x2="427.00" y2="223.00" stroke="#333" stroke-width="0.80"/>
<polygon points="422.00,216.00 424.96,217.57 422.52,219.31" fill="#111"/>
<text x="441.90" y="214.30" font-size="8.40" font-family="Liberation Sans, sans-serif" font-weight="bold" text-anchor="start" fill="#000" textLength="33.10" lengthAdjust="spacingAndGlyphs" >725.5 eV</text>
<line x1="443.00" y1="216.00" x2="439.00" y2="222.00" stroke="#333" stroke-width="0.80"/>
<polygon points="443.00,216.00 442.58,219.33 440.09,217.66" fill="#111"/>
<text x="461.60" y="251.80" font-size="8.80" font-family="Liberation Serif, serif" font-weight="bold" text-anchor="start" fill="#000" textLength="43.90" lengthAdjust="spacingAndGlyphs" >N,Fe-CQDs</text>
<text x="299.50" y="308.60" font-size="8.40" font-family="Liberation Sans, sans-serif" font-weight="bold" text-anchor="start" fill="#000" textLength="33.90" lengthAdjust="spacingAndGlyphs" >710.0 eV</text>
<line x1="339.20" y1="311.30" x2="343.50" y2="314.50" stroke="#333" stroke-width="0.80"/>
<polygon points="339.20,311.30 342.50,311.89 340.71,314.29" fill="#111"/>
<text x="347.60" y="291.10" font-size="8.40" font-family="Liberation Sans, sans-serif" font-weight="bold" text-anchor="start" fill="#000" textLength="33.70" lengthAdjust="spacingAndGlyphs" >714.2 eV</text>
<line x1="364.50" y1="293.00" x2="368.40" y2="297.30" stroke="#333" stroke-width="0.80"/>
<polygon points="364.50,293.00 367.63,294.21 365.40,296.23" fill="#111"/>
<text x="384.70" y="304.70" font-size="8.40" font-family="Liberation Sans, sans-serif" font-weight="bold" text-anchor="start" fill="#000" textLength="32.90" lengthAdjust="spacingAndGlyphs" >718.9 eV</text>
<line x1="396.40" y1="308.00" x2="398.60" y2="317.80" stroke="#333" stroke-width="0.80"/>
<polygon points="396.40,308.00 398.52,310.60 395.59,311.26" fill="#111"/>
<text x="411.50" y="291.60" font-size="8.40" font-family="Liberation Sans, sans-serif" font-weight="bold" text-anchor="start" fill="#000" textLength="34.20" lengthAdjust="spacingAndGlyphs" >722.8 eV</text>
<line x1="426.30" y1="294.00" x2="424.60" y2="308.10" stroke="#333" stroke-width="0.80"/>
<polygon points="426.30,294.00 427.43,297.16 424.45,296.80" fill="#111"/>
<text x="457.20" y="291.60" font-size="8.40" font-family="Liberation Sans, sans-serif" font-weight="bold" text-anchor="start" fill="#000" textLength="33.10" lengthAdjust="spacingAndGlyphs" >727.7 eV</text>
<line x1="456.30" y1="292.90" x2="452.80" y2="300.00" stroke="#333" stroke-width="0.80"/>
<polygon points="456.30,292.90 456.32,296.25 453.63,294.93" fill="#111"/>
<text x="441.20" y="348.90" font-size="8.80" font-family="Liberation Serif, serif" font-weight="bold" text-anchor="start" fill="#000" textLength="69.00" lengthAdjust="spacingAndGlyphs" >CN/N,Fe-CQDs(2)</text>
<rect x="294.90" y="205.20" width="228.50" height="160.00" fill="none" stroke="#000" stroke-width="1.50"/></svg>
</body></html>
